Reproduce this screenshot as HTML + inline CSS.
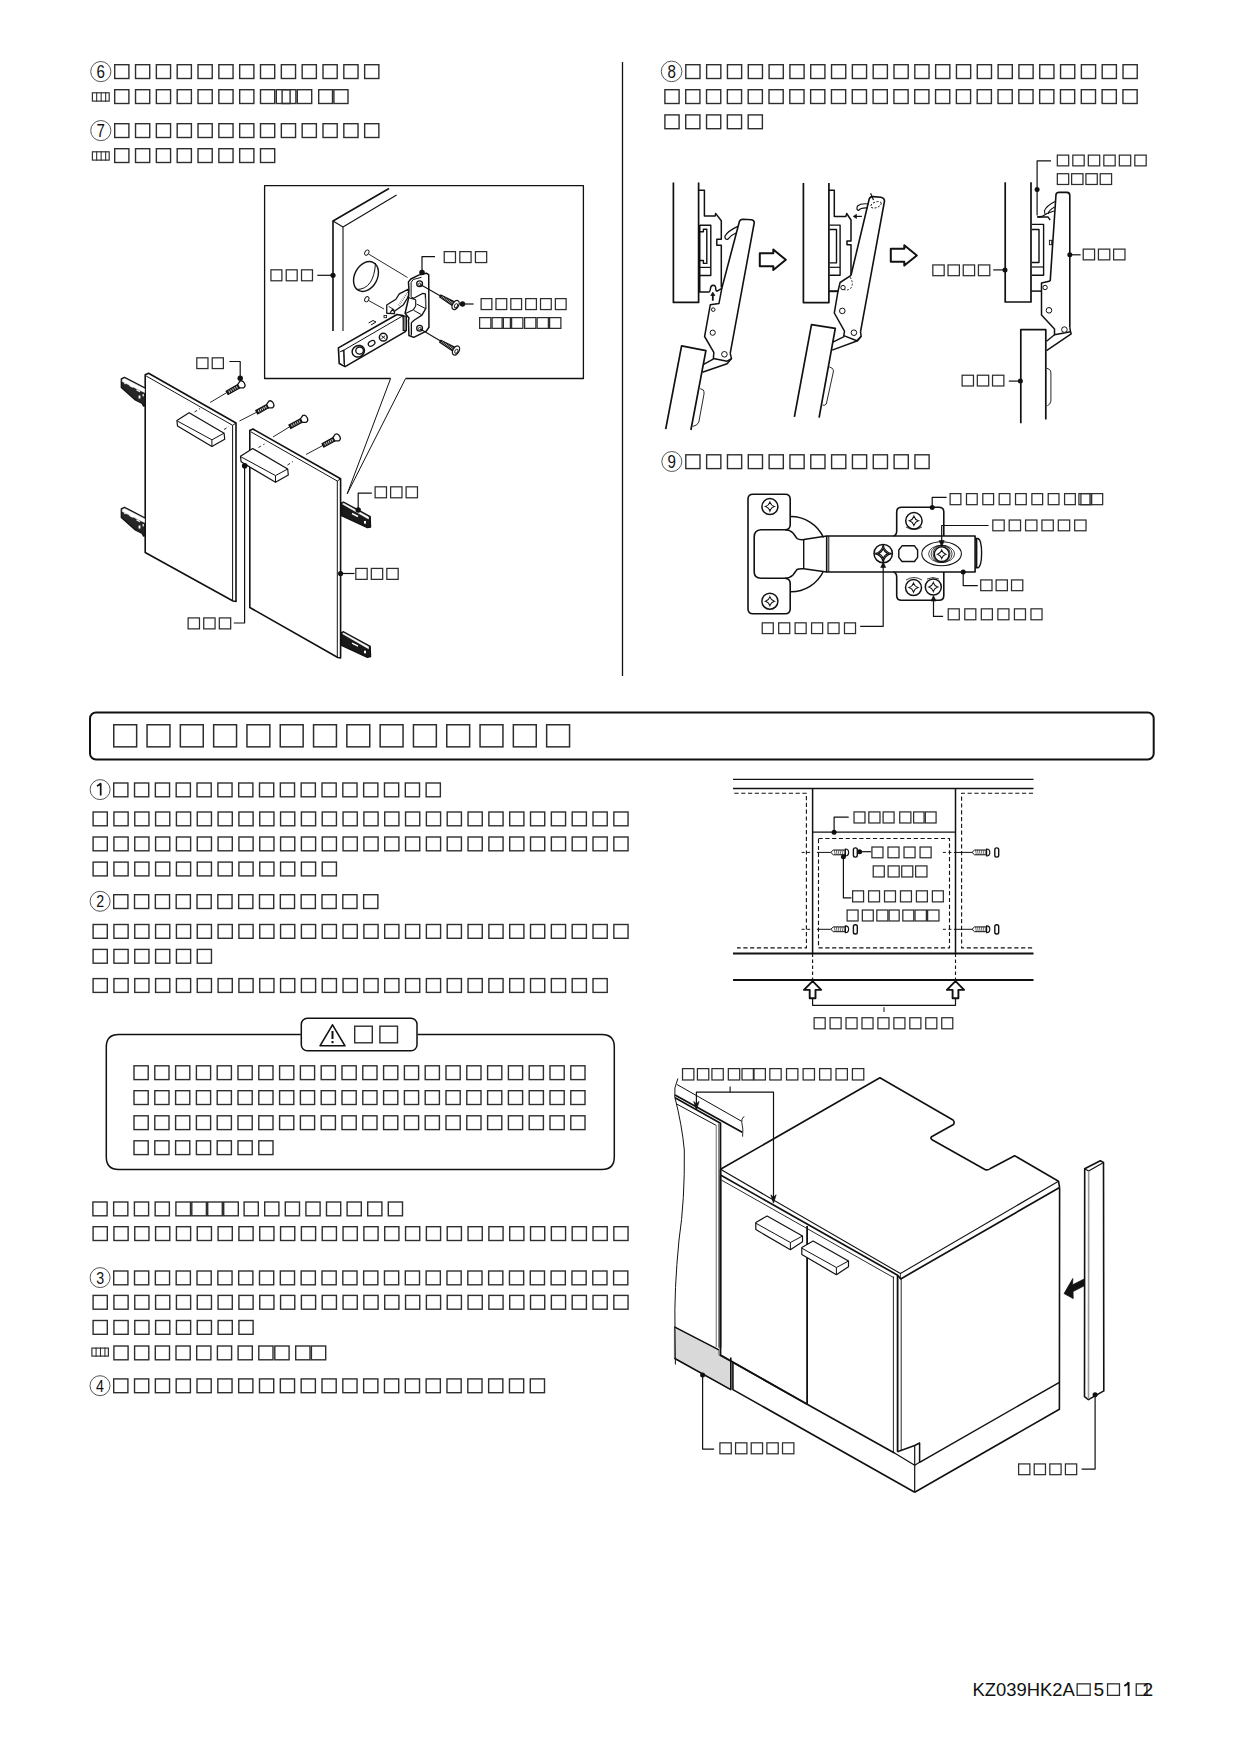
<!DOCTYPE html>
<html><head><meta charset="utf-8"><style>
html,body{margin:0;padding:0;background:#fff;}
svg{display:block;font-family:"Liberation Sans",sans-serif;}
</style></head><body>
<svg width="1244" height="1756" viewBox="0 0 1244 1756">
<rect width="1244" height="1756" fill="#fff"/>
<circle cx="100.8" cy="71.6" r="10.1" fill="none" stroke="#444" stroke-width="0.9"/>
<text transform="translate(100.8 78.04) scale(0.84 1)" x="0" y="0" font-size="18" text-anchor="middle" fill="#111">6</text>
<rect x="114.70" y="64.70" width="14.20" height="13.80" fill="none" stroke="#2e2e2e" stroke-width="1.4"/>
<rect x="135.53" y="64.70" width="14.20" height="13.80" fill="none" stroke="#2e2e2e" stroke-width="1.4"/>
<rect x="156.36" y="64.70" width="14.20" height="13.80" fill="none" stroke="#2e2e2e" stroke-width="1.4"/>
<rect x="177.19" y="64.70" width="14.20" height="13.80" fill="none" stroke="#2e2e2e" stroke-width="1.4"/>
<rect x="198.02" y="64.70" width="14.20" height="13.80" fill="none" stroke="#2e2e2e" stroke-width="1.4"/>
<rect x="218.85" y="64.70" width="14.20" height="13.80" fill="none" stroke="#2e2e2e" stroke-width="1.4"/>
<rect x="239.68" y="64.70" width="14.20" height="13.80" fill="none" stroke="#2e2e2e" stroke-width="1.4"/>
<rect x="260.51" y="64.70" width="14.20" height="13.80" fill="none" stroke="#2e2e2e" stroke-width="1.4"/>
<rect x="281.34" y="64.70" width="14.20" height="13.80" fill="none" stroke="#2e2e2e" stroke-width="1.4"/>
<rect x="302.17" y="64.70" width="14.20" height="13.80" fill="none" stroke="#2e2e2e" stroke-width="1.4"/>
<rect x="323.00" y="64.70" width="14.20" height="13.80" fill="none" stroke="#2e2e2e" stroke-width="1.4"/>
<rect x="343.83" y="64.70" width="14.20" height="13.80" fill="none" stroke="#2e2e2e" stroke-width="1.4"/>
<rect x="364.66" y="64.70" width="14.20" height="13.80" fill="none" stroke="#2e2e2e" stroke-width="1.4"/>
<rect x="92.39999999999999" y="92.8" width="16.8" height="8.3" fill="none" stroke="#333" stroke-width="1.2"/>
<line x1="96.66" y1="92.2" x2="96.66" y2="101.7" stroke="#333" stroke-width="1.1"/>
<line x1="101.16" y1="92.2" x2="101.16" y2="101.7" stroke="#333" stroke-width="1.1"/>
<line x1="105.66" y1="92.2" x2="105.66" y2="101.7" stroke="#333" stroke-width="1.1"/>
<rect x="114.70" y="89.70" width="14.20" height="13.80" fill="none" stroke="#2e2e2e" stroke-width="1.4"/>
<rect x="135.53" y="89.70" width="14.20" height="13.80" fill="none" stroke="#2e2e2e" stroke-width="1.4"/>
<rect x="156.36" y="89.70" width="14.20" height="13.80" fill="none" stroke="#2e2e2e" stroke-width="1.4"/>
<rect x="177.19" y="89.70" width="14.20" height="13.80" fill="none" stroke="#2e2e2e" stroke-width="1.4"/>
<rect x="198.02" y="89.70" width="14.20" height="13.80" fill="none" stroke="#2e2e2e" stroke-width="1.4"/>
<rect x="218.85" y="89.70" width="14.20" height="13.80" fill="none" stroke="#2e2e2e" stroke-width="1.4"/>
<rect x="239.68" y="89.70" width="14.20" height="13.80" fill="none" stroke="#2e2e2e" stroke-width="1.4"/>
<rect x="260.51" y="89.70" width="14.20" height="13.80" fill="none" stroke="#2e2e2e" stroke-width="1.4"/>
<rect x="276.30" y="89.70" width="13.80" height="13.80" fill="none" stroke="#2e2e2e" stroke-width="1.4"/>
<rect x="282.10" y="89.70" width="13.80" height="13.80" fill="none" stroke="#2e2e2e" stroke-width="1.4"/>
<rect x="297.30" y="89.70" width="14.40" height="13.80" fill="none" stroke="#2e2e2e" stroke-width="1.4"/>
<rect x="318.70" y="89.70" width="13.80" height="13.80" fill="none" stroke="#2e2e2e" stroke-width="1.4"/>
<rect x="333.90" y="89.70" width="14.10" height="13.80" fill="none" stroke="#2e2e2e" stroke-width="1.4"/>
<circle cx="100.8" cy="130.6" r="10.1" fill="none" stroke="#444" stroke-width="0.9"/>
<text transform="translate(100.8 137.04) scale(0.84 1)" x="0" y="0" font-size="18" text-anchor="middle" fill="#111">7</text>
<rect x="114.70" y="123.70" width="14.20" height="13.80" fill="none" stroke="#2e2e2e" stroke-width="1.4"/>
<rect x="135.53" y="123.70" width="14.20" height="13.80" fill="none" stroke="#2e2e2e" stroke-width="1.4"/>
<rect x="156.36" y="123.70" width="14.20" height="13.80" fill="none" stroke="#2e2e2e" stroke-width="1.4"/>
<rect x="177.19" y="123.70" width="14.20" height="13.80" fill="none" stroke="#2e2e2e" stroke-width="1.4"/>
<rect x="198.02" y="123.70" width="14.20" height="13.80" fill="none" stroke="#2e2e2e" stroke-width="1.4"/>
<rect x="218.85" y="123.70" width="14.20" height="13.80" fill="none" stroke="#2e2e2e" stroke-width="1.4"/>
<rect x="239.68" y="123.70" width="14.20" height="13.80" fill="none" stroke="#2e2e2e" stroke-width="1.4"/>
<rect x="260.51" y="123.70" width="14.20" height="13.80" fill="none" stroke="#2e2e2e" stroke-width="1.4"/>
<rect x="281.34" y="123.70" width="14.20" height="13.80" fill="none" stroke="#2e2e2e" stroke-width="1.4"/>
<rect x="302.17" y="123.70" width="14.20" height="13.80" fill="none" stroke="#2e2e2e" stroke-width="1.4"/>
<rect x="323.00" y="123.70" width="14.20" height="13.80" fill="none" stroke="#2e2e2e" stroke-width="1.4"/>
<rect x="343.83" y="123.70" width="14.20" height="13.80" fill="none" stroke="#2e2e2e" stroke-width="1.4"/>
<rect x="364.66" y="123.70" width="14.20" height="13.80" fill="none" stroke="#2e2e2e" stroke-width="1.4"/>
<rect x="92.39999999999999" y="151.79999999999998" width="16.8" height="8.3" fill="none" stroke="#333" stroke-width="1.2"/>
<line x1="96.66" y1="151.2" x2="96.66" y2="160.7" stroke="#333" stroke-width="1.1"/>
<line x1="101.16" y1="151.2" x2="101.16" y2="160.7" stroke="#333" stroke-width="1.1"/>
<line x1="105.66" y1="151.2" x2="105.66" y2="160.7" stroke="#333" stroke-width="1.1"/>
<rect x="114.70" y="148.70" width="14.20" height="13.80" fill="none" stroke="#2e2e2e" stroke-width="1.4"/>
<rect x="135.53" y="148.70" width="14.20" height="13.80" fill="none" stroke="#2e2e2e" stroke-width="1.4"/>
<rect x="156.36" y="148.70" width="14.20" height="13.80" fill="none" stroke="#2e2e2e" stroke-width="1.4"/>
<rect x="177.19" y="148.70" width="14.20" height="13.80" fill="none" stroke="#2e2e2e" stroke-width="1.4"/>
<rect x="198.02" y="148.70" width="14.20" height="13.80" fill="none" stroke="#2e2e2e" stroke-width="1.4"/>
<rect x="218.85" y="148.70" width="14.20" height="13.80" fill="none" stroke="#2e2e2e" stroke-width="1.4"/>
<rect x="239.68" y="148.70" width="14.20" height="13.80" fill="none" stroke="#2e2e2e" stroke-width="1.4"/>
<rect x="260.51" y="148.70" width="14.20" height="13.80" fill="none" stroke="#2e2e2e" stroke-width="1.4"/>
<polyline points="622.5,62 622.5,676" fill="none" stroke="#111" stroke-width="1.3" stroke-linejoin="round" />
<circle cx="671.6" cy="71.4" r="10.3" fill="none" stroke="#444" stroke-width="0.9"/>
<text transform="translate(671.6 77.84) scale(0.84 1)" x="0" y="0" font-size="18" text-anchor="middle" fill="#111">8</text>
<rect x="685.80" y="64.70" width="14.20" height="13.80" fill="none" stroke="#2e2e2e" stroke-width="1.4"/>
<rect x="706.62" y="64.70" width="14.20" height="13.80" fill="none" stroke="#2e2e2e" stroke-width="1.4"/>
<rect x="727.44" y="64.70" width="14.20" height="13.80" fill="none" stroke="#2e2e2e" stroke-width="1.4"/>
<rect x="748.26" y="64.70" width="14.20" height="13.80" fill="none" stroke="#2e2e2e" stroke-width="1.4"/>
<rect x="769.08" y="64.70" width="14.20" height="13.80" fill="none" stroke="#2e2e2e" stroke-width="1.4"/>
<rect x="789.90" y="64.70" width="14.20" height="13.80" fill="none" stroke="#2e2e2e" stroke-width="1.4"/>
<rect x="810.72" y="64.70" width="14.20" height="13.80" fill="none" stroke="#2e2e2e" stroke-width="1.4"/>
<rect x="831.54" y="64.70" width="14.20" height="13.80" fill="none" stroke="#2e2e2e" stroke-width="1.4"/>
<rect x="852.36" y="64.70" width="14.20" height="13.80" fill="none" stroke="#2e2e2e" stroke-width="1.4"/>
<rect x="873.18" y="64.70" width="14.20" height="13.80" fill="none" stroke="#2e2e2e" stroke-width="1.4"/>
<rect x="894.00" y="64.70" width="14.20" height="13.80" fill="none" stroke="#2e2e2e" stroke-width="1.4"/>
<rect x="914.82" y="64.70" width="14.20" height="13.80" fill="none" stroke="#2e2e2e" stroke-width="1.4"/>
<rect x="935.64" y="64.70" width="14.20" height="13.80" fill="none" stroke="#2e2e2e" stroke-width="1.4"/>
<rect x="956.46" y="64.70" width="14.20" height="13.80" fill="none" stroke="#2e2e2e" stroke-width="1.4"/>
<rect x="977.28" y="64.70" width="14.20" height="13.80" fill="none" stroke="#2e2e2e" stroke-width="1.4"/>
<rect x="998.10" y="64.70" width="14.20" height="13.80" fill="none" stroke="#2e2e2e" stroke-width="1.4"/>
<rect x="1018.92" y="64.70" width="14.20" height="13.80" fill="none" stroke="#2e2e2e" stroke-width="1.4"/>
<rect x="1039.74" y="64.70" width="14.20" height="13.80" fill="none" stroke="#2e2e2e" stroke-width="1.4"/>
<rect x="1060.56" y="64.70" width="14.20" height="13.80" fill="none" stroke="#2e2e2e" stroke-width="1.4"/>
<rect x="1081.38" y="64.70" width="14.20" height="13.80" fill="none" stroke="#2e2e2e" stroke-width="1.4"/>
<rect x="1102.20" y="64.70" width="14.20" height="13.80" fill="none" stroke="#2e2e2e" stroke-width="1.4"/>
<rect x="1123.02" y="64.70" width="14.20" height="13.80" fill="none" stroke="#2e2e2e" stroke-width="1.4"/>
<rect x="664.90" y="89.70" width="14.20" height="13.80" fill="none" stroke="#2e2e2e" stroke-width="1.4"/>
<rect x="685.72" y="89.70" width="14.20" height="13.80" fill="none" stroke="#2e2e2e" stroke-width="1.4"/>
<rect x="706.54" y="89.70" width="14.20" height="13.80" fill="none" stroke="#2e2e2e" stroke-width="1.4"/>
<rect x="727.36" y="89.70" width="14.20" height="13.80" fill="none" stroke="#2e2e2e" stroke-width="1.4"/>
<rect x="748.18" y="89.70" width="14.20" height="13.80" fill="none" stroke="#2e2e2e" stroke-width="1.4"/>
<rect x="769.00" y="89.70" width="14.20" height="13.80" fill="none" stroke="#2e2e2e" stroke-width="1.4"/>
<rect x="789.82" y="89.70" width="14.20" height="13.80" fill="none" stroke="#2e2e2e" stroke-width="1.4"/>
<rect x="810.64" y="89.70" width="14.20" height="13.80" fill="none" stroke="#2e2e2e" stroke-width="1.4"/>
<rect x="831.46" y="89.70" width="14.20" height="13.80" fill="none" stroke="#2e2e2e" stroke-width="1.4"/>
<rect x="852.28" y="89.70" width="14.20" height="13.80" fill="none" stroke="#2e2e2e" stroke-width="1.4"/>
<rect x="873.10" y="89.70" width="14.20" height="13.80" fill="none" stroke="#2e2e2e" stroke-width="1.4"/>
<rect x="893.92" y="89.70" width="14.20" height="13.80" fill="none" stroke="#2e2e2e" stroke-width="1.4"/>
<rect x="914.74" y="89.70" width="14.20" height="13.80" fill="none" stroke="#2e2e2e" stroke-width="1.4"/>
<rect x="935.56" y="89.70" width="14.20" height="13.80" fill="none" stroke="#2e2e2e" stroke-width="1.4"/>
<rect x="956.38" y="89.70" width="14.20" height="13.80" fill="none" stroke="#2e2e2e" stroke-width="1.4"/>
<rect x="977.20" y="89.70" width="14.20" height="13.80" fill="none" stroke="#2e2e2e" stroke-width="1.4"/>
<rect x="998.02" y="89.70" width="14.20" height="13.80" fill="none" stroke="#2e2e2e" stroke-width="1.4"/>
<rect x="1018.84" y="89.70" width="14.20" height="13.80" fill="none" stroke="#2e2e2e" stroke-width="1.4"/>
<rect x="1039.66" y="89.70" width="14.20" height="13.80" fill="none" stroke="#2e2e2e" stroke-width="1.4"/>
<rect x="1060.48" y="89.70" width="14.20" height="13.80" fill="none" stroke="#2e2e2e" stroke-width="1.4"/>
<rect x="1081.30" y="89.70" width="14.20" height="13.80" fill="none" stroke="#2e2e2e" stroke-width="1.4"/>
<rect x="1102.12" y="89.70" width="14.20" height="13.80" fill="none" stroke="#2e2e2e" stroke-width="1.4"/>
<rect x="1122.94" y="89.70" width="14.20" height="13.80" fill="none" stroke="#2e2e2e" stroke-width="1.4"/>
<rect x="664.90" y="114.90" width="14.20" height="13.80" fill="none" stroke="#2e2e2e" stroke-width="1.4"/>
<rect x="685.72" y="114.90" width="14.20" height="13.80" fill="none" stroke="#2e2e2e" stroke-width="1.4"/>
<rect x="706.54" y="114.90" width="14.20" height="13.80" fill="none" stroke="#2e2e2e" stroke-width="1.4"/>
<rect x="727.36" y="114.90" width="14.20" height="13.80" fill="none" stroke="#2e2e2e" stroke-width="1.4"/>
<rect x="748.18" y="114.90" width="14.20" height="13.80" fill="none" stroke="#2e2e2e" stroke-width="1.4"/>
<circle cx="671.8" cy="461.5" r="10.0" fill="none" stroke="#444" stroke-width="0.9"/>
<text transform="translate(671.8 467.94) scale(0.84 1)" x="0" y="0" font-size="18" text-anchor="middle" fill="#111">9</text>
<rect x="685.80" y="454.80" width="14.20" height="13.80" fill="none" stroke="#2e2e2e" stroke-width="1.4"/>
<rect x="706.63" y="454.80" width="14.20" height="13.80" fill="none" stroke="#2e2e2e" stroke-width="1.4"/>
<rect x="727.46" y="454.80" width="14.20" height="13.80" fill="none" stroke="#2e2e2e" stroke-width="1.4"/>
<rect x="748.29" y="454.80" width="14.20" height="13.80" fill="none" stroke="#2e2e2e" stroke-width="1.4"/>
<rect x="769.12" y="454.80" width="14.20" height="13.80" fill="none" stroke="#2e2e2e" stroke-width="1.4"/>
<rect x="789.95" y="454.80" width="14.20" height="13.80" fill="none" stroke="#2e2e2e" stroke-width="1.4"/>
<rect x="810.78" y="454.80" width="14.20" height="13.80" fill="none" stroke="#2e2e2e" stroke-width="1.4"/>
<rect x="831.61" y="454.80" width="14.20" height="13.80" fill="none" stroke="#2e2e2e" stroke-width="1.4"/>
<rect x="852.44" y="454.80" width="14.20" height="13.80" fill="none" stroke="#2e2e2e" stroke-width="1.4"/>
<rect x="873.27" y="454.80" width="14.20" height="13.80" fill="none" stroke="#2e2e2e" stroke-width="1.4"/>
<rect x="894.10" y="454.80" width="14.20" height="13.80" fill="none" stroke="#2e2e2e" stroke-width="1.4"/>
<rect x="914.93" y="454.80" width="14.20" height="13.80" fill="none" stroke="#2e2e2e" stroke-width="1.4"/>
<rect x="90" y="712.5" width="1063.7" height="47" rx="6" ry="6" fill="none" stroke="#111" stroke-width="2"/>
<rect x="113.75" y="724.75" width="22.90" height="22.10" fill="none" stroke="#2e2e2e" stroke-width="1.5"/>
<rect x="147.05" y="724.75" width="22.90" height="22.10" fill="none" stroke="#2e2e2e" stroke-width="1.5"/>
<rect x="180.35" y="724.75" width="22.90" height="22.10" fill="none" stroke="#2e2e2e" stroke-width="1.5"/>
<rect x="213.65" y="724.75" width="22.90" height="22.10" fill="none" stroke="#2e2e2e" stroke-width="1.5"/>
<rect x="246.95" y="724.75" width="22.90" height="22.10" fill="none" stroke="#2e2e2e" stroke-width="1.5"/>
<rect x="280.25" y="724.75" width="22.90" height="22.10" fill="none" stroke="#2e2e2e" stroke-width="1.5"/>
<rect x="313.55" y="724.75" width="22.90" height="22.10" fill="none" stroke="#2e2e2e" stroke-width="1.5"/>
<rect x="346.85" y="724.75" width="22.90" height="22.10" fill="none" stroke="#2e2e2e" stroke-width="1.5"/>
<rect x="380.15" y="724.75" width="22.90" height="22.10" fill="none" stroke="#2e2e2e" stroke-width="1.5"/>
<rect x="413.45" y="724.75" width="22.90" height="22.10" fill="none" stroke="#2e2e2e" stroke-width="1.5"/>
<rect x="446.75" y="724.75" width="22.90" height="22.10" fill="none" stroke="#2e2e2e" stroke-width="1.5"/>
<rect x="480.05" y="724.75" width="22.90" height="22.10" fill="none" stroke="#2e2e2e" stroke-width="1.5"/>
<rect x="513.35" y="724.75" width="22.90" height="22.10" fill="none" stroke="#2e2e2e" stroke-width="1.5"/>
<rect x="546.65" y="724.75" width="22.90" height="22.10" fill="none" stroke="#2e2e2e" stroke-width="1.5"/>
<circle cx="100.1" cy="789.6" r="10.0" fill="none" stroke="#444" stroke-width="0.9"/>
<path d="M 96.89999999999999,786.0 Q 99.89999999999999,785.0 100.69999999999999,783.2 L 100.69999999999999,795.4" fill="none" stroke="#111" stroke-width="1.7"/>
<rect x="113.70" y="783.00" width="14.20" height="13.80" fill="none" stroke="#2e2e2e" stroke-width="1.4"/>
<rect x="134.53" y="783.00" width="14.20" height="13.80" fill="none" stroke="#2e2e2e" stroke-width="1.4"/>
<rect x="155.36" y="783.00" width="14.20" height="13.80" fill="none" stroke="#2e2e2e" stroke-width="1.4"/>
<rect x="176.19" y="783.00" width="14.20" height="13.80" fill="none" stroke="#2e2e2e" stroke-width="1.4"/>
<rect x="197.02" y="783.00" width="14.20" height="13.80" fill="none" stroke="#2e2e2e" stroke-width="1.4"/>
<rect x="217.85" y="783.00" width="14.20" height="13.80" fill="none" stroke="#2e2e2e" stroke-width="1.4"/>
<rect x="238.68" y="783.00" width="14.20" height="13.80" fill="none" stroke="#2e2e2e" stroke-width="1.4"/>
<rect x="259.51" y="783.00" width="14.20" height="13.80" fill="none" stroke="#2e2e2e" stroke-width="1.4"/>
<rect x="280.34" y="783.00" width="14.20" height="13.80" fill="none" stroke="#2e2e2e" stroke-width="1.4"/>
<rect x="301.17" y="783.00" width="14.20" height="13.80" fill="none" stroke="#2e2e2e" stroke-width="1.4"/>
<rect x="322.00" y="783.00" width="14.20" height="13.80" fill="none" stroke="#2e2e2e" stroke-width="1.4"/>
<rect x="342.83" y="783.00" width="14.20" height="13.80" fill="none" stroke="#2e2e2e" stroke-width="1.4"/>
<rect x="363.66" y="783.00" width="14.20" height="13.80" fill="none" stroke="#2e2e2e" stroke-width="1.4"/>
<rect x="384.49" y="783.00" width="14.20" height="13.80" fill="none" stroke="#2e2e2e" stroke-width="1.4"/>
<rect x="405.32" y="783.00" width="14.20" height="13.80" fill="none" stroke="#2e2e2e" stroke-width="1.4"/>
<rect x="426.15" y="783.00" width="14.20" height="13.80" fill="none" stroke="#2e2e2e" stroke-width="1.4"/>
<rect x="93.10" y="812.00" width="14.20" height="13.80" fill="none" stroke="#2e2e2e" stroke-width="1.4"/>
<rect x="113.93" y="812.00" width="14.20" height="13.80" fill="none" stroke="#2e2e2e" stroke-width="1.4"/>
<rect x="134.76" y="812.00" width="14.20" height="13.80" fill="none" stroke="#2e2e2e" stroke-width="1.4"/>
<rect x="155.59" y="812.00" width="14.20" height="13.80" fill="none" stroke="#2e2e2e" stroke-width="1.4"/>
<rect x="176.42" y="812.00" width="14.20" height="13.80" fill="none" stroke="#2e2e2e" stroke-width="1.4"/>
<rect x="197.25" y="812.00" width="14.20" height="13.80" fill="none" stroke="#2e2e2e" stroke-width="1.4"/>
<rect x="218.08" y="812.00" width="14.20" height="13.80" fill="none" stroke="#2e2e2e" stroke-width="1.4"/>
<rect x="238.91" y="812.00" width="14.20" height="13.80" fill="none" stroke="#2e2e2e" stroke-width="1.4"/>
<rect x="259.74" y="812.00" width="14.20" height="13.80" fill="none" stroke="#2e2e2e" stroke-width="1.4"/>
<rect x="280.57" y="812.00" width="14.20" height="13.80" fill="none" stroke="#2e2e2e" stroke-width="1.4"/>
<rect x="301.40" y="812.00" width="14.20" height="13.80" fill="none" stroke="#2e2e2e" stroke-width="1.4"/>
<rect x="322.23" y="812.00" width="14.20" height="13.80" fill="none" stroke="#2e2e2e" stroke-width="1.4"/>
<rect x="343.06" y="812.00" width="14.20" height="13.80" fill="none" stroke="#2e2e2e" stroke-width="1.4"/>
<rect x="363.89" y="812.00" width="14.20" height="13.80" fill="none" stroke="#2e2e2e" stroke-width="1.4"/>
<rect x="384.72" y="812.00" width="14.20" height="13.80" fill="none" stroke="#2e2e2e" stroke-width="1.4"/>
<rect x="405.55" y="812.00" width="14.20" height="13.80" fill="none" stroke="#2e2e2e" stroke-width="1.4"/>
<rect x="426.38" y="812.00" width="14.20" height="13.80" fill="none" stroke="#2e2e2e" stroke-width="1.4"/>
<rect x="447.21" y="812.00" width="14.20" height="13.80" fill="none" stroke="#2e2e2e" stroke-width="1.4"/>
<rect x="468.04" y="812.00" width="14.20" height="13.80" fill="none" stroke="#2e2e2e" stroke-width="1.4"/>
<rect x="488.87" y="812.00" width="14.20" height="13.80" fill="none" stroke="#2e2e2e" stroke-width="1.4"/>
<rect x="509.70" y="812.00" width="14.20" height="13.80" fill="none" stroke="#2e2e2e" stroke-width="1.4"/>
<rect x="530.53" y="812.00" width="14.20" height="13.80" fill="none" stroke="#2e2e2e" stroke-width="1.4"/>
<rect x="551.36" y="812.00" width="14.20" height="13.80" fill="none" stroke="#2e2e2e" stroke-width="1.4"/>
<rect x="572.19" y="812.00" width="14.20" height="13.80" fill="none" stroke="#2e2e2e" stroke-width="1.4"/>
<rect x="593.02" y="812.00" width="14.20" height="13.80" fill="none" stroke="#2e2e2e" stroke-width="1.4"/>
<rect x="613.85" y="812.00" width="14.20" height="13.80" fill="none" stroke="#2e2e2e" stroke-width="1.4"/>
<rect x="93.10" y="837.00" width="14.20" height="13.80" fill="none" stroke="#2e2e2e" stroke-width="1.4"/>
<rect x="113.93" y="837.00" width="14.20" height="13.80" fill="none" stroke="#2e2e2e" stroke-width="1.4"/>
<rect x="134.76" y="837.00" width="14.20" height="13.80" fill="none" stroke="#2e2e2e" stroke-width="1.4"/>
<rect x="155.59" y="837.00" width="14.20" height="13.80" fill="none" stroke="#2e2e2e" stroke-width="1.4"/>
<rect x="176.42" y="837.00" width="14.20" height="13.80" fill="none" stroke="#2e2e2e" stroke-width="1.4"/>
<rect x="197.25" y="837.00" width="14.20" height="13.80" fill="none" stroke="#2e2e2e" stroke-width="1.4"/>
<rect x="218.08" y="837.00" width="14.20" height="13.80" fill="none" stroke="#2e2e2e" stroke-width="1.4"/>
<rect x="238.91" y="837.00" width="14.20" height="13.80" fill="none" stroke="#2e2e2e" stroke-width="1.4"/>
<rect x="259.74" y="837.00" width="14.20" height="13.80" fill="none" stroke="#2e2e2e" stroke-width="1.4"/>
<rect x="280.57" y="837.00" width="14.20" height="13.80" fill="none" stroke="#2e2e2e" stroke-width="1.4"/>
<rect x="301.40" y="837.00" width="14.20" height="13.80" fill="none" stroke="#2e2e2e" stroke-width="1.4"/>
<rect x="322.23" y="837.00" width="14.20" height="13.80" fill="none" stroke="#2e2e2e" stroke-width="1.4"/>
<rect x="343.06" y="837.00" width="14.20" height="13.80" fill="none" stroke="#2e2e2e" stroke-width="1.4"/>
<rect x="363.89" y="837.00" width="14.20" height="13.80" fill="none" stroke="#2e2e2e" stroke-width="1.4"/>
<rect x="384.72" y="837.00" width="14.20" height="13.80" fill="none" stroke="#2e2e2e" stroke-width="1.4"/>
<rect x="405.55" y="837.00" width="14.20" height="13.80" fill="none" stroke="#2e2e2e" stroke-width="1.4"/>
<rect x="426.38" y="837.00" width="14.20" height="13.80" fill="none" stroke="#2e2e2e" stroke-width="1.4"/>
<rect x="447.21" y="837.00" width="14.20" height="13.80" fill="none" stroke="#2e2e2e" stroke-width="1.4"/>
<rect x="468.04" y="837.00" width="14.20" height="13.80" fill="none" stroke="#2e2e2e" stroke-width="1.4"/>
<rect x="488.87" y="837.00" width="14.20" height="13.80" fill="none" stroke="#2e2e2e" stroke-width="1.4"/>
<rect x="509.70" y="837.00" width="14.20" height="13.80" fill="none" stroke="#2e2e2e" stroke-width="1.4"/>
<rect x="530.53" y="837.00" width="14.20" height="13.80" fill="none" stroke="#2e2e2e" stroke-width="1.4"/>
<rect x="551.36" y="837.00" width="14.20" height="13.80" fill="none" stroke="#2e2e2e" stroke-width="1.4"/>
<rect x="572.19" y="837.00" width="14.20" height="13.80" fill="none" stroke="#2e2e2e" stroke-width="1.4"/>
<rect x="593.02" y="837.00" width="14.20" height="13.80" fill="none" stroke="#2e2e2e" stroke-width="1.4"/>
<rect x="613.85" y="837.00" width="14.20" height="13.80" fill="none" stroke="#2e2e2e" stroke-width="1.4"/>
<rect x="93.10" y="862.10" width="14.20" height="13.80" fill="none" stroke="#2e2e2e" stroke-width="1.4"/>
<rect x="113.93" y="862.10" width="14.20" height="13.80" fill="none" stroke="#2e2e2e" stroke-width="1.4"/>
<rect x="134.76" y="862.10" width="14.20" height="13.80" fill="none" stroke="#2e2e2e" stroke-width="1.4"/>
<rect x="155.59" y="862.10" width="14.20" height="13.80" fill="none" stroke="#2e2e2e" stroke-width="1.4"/>
<rect x="176.42" y="862.10" width="14.20" height="13.80" fill="none" stroke="#2e2e2e" stroke-width="1.4"/>
<rect x="197.25" y="862.10" width="14.20" height="13.80" fill="none" stroke="#2e2e2e" stroke-width="1.4"/>
<rect x="218.08" y="862.10" width="14.20" height="13.80" fill="none" stroke="#2e2e2e" stroke-width="1.4"/>
<rect x="238.91" y="862.10" width="14.20" height="13.80" fill="none" stroke="#2e2e2e" stroke-width="1.4"/>
<rect x="259.74" y="862.10" width="14.20" height="13.80" fill="none" stroke="#2e2e2e" stroke-width="1.4"/>
<rect x="280.57" y="862.10" width="14.20" height="13.80" fill="none" stroke="#2e2e2e" stroke-width="1.4"/>
<rect x="301.40" y="862.10" width="14.20" height="13.80" fill="none" stroke="#2e2e2e" stroke-width="1.4"/>
<rect x="322.23" y="862.10" width="14.20" height="13.80" fill="none" stroke="#2e2e2e" stroke-width="1.4"/>
<circle cx="100.1" cy="901.3" r="10.0" fill="none" stroke="#444" stroke-width="0.9"/>
<text transform="translate(100.1 907.39) scale(0.84 1)" x="0" y="0" font-size="17" text-anchor="middle" fill="#111">2</text>
<rect x="113.70" y="894.70" width="14.20" height="13.80" fill="none" stroke="#2e2e2e" stroke-width="1.4"/>
<rect x="134.53" y="894.70" width="14.20" height="13.80" fill="none" stroke="#2e2e2e" stroke-width="1.4"/>
<rect x="155.36" y="894.70" width="14.20" height="13.80" fill="none" stroke="#2e2e2e" stroke-width="1.4"/>
<rect x="176.19" y="894.70" width="14.20" height="13.80" fill="none" stroke="#2e2e2e" stroke-width="1.4"/>
<rect x="197.02" y="894.70" width="14.20" height="13.80" fill="none" stroke="#2e2e2e" stroke-width="1.4"/>
<rect x="217.85" y="894.70" width="14.20" height="13.80" fill="none" stroke="#2e2e2e" stroke-width="1.4"/>
<rect x="238.68" y="894.70" width="14.20" height="13.80" fill="none" stroke="#2e2e2e" stroke-width="1.4"/>
<rect x="259.51" y="894.70" width="14.20" height="13.80" fill="none" stroke="#2e2e2e" stroke-width="1.4"/>
<rect x="280.34" y="894.70" width="14.20" height="13.80" fill="none" stroke="#2e2e2e" stroke-width="1.4"/>
<rect x="301.17" y="894.70" width="14.20" height="13.80" fill="none" stroke="#2e2e2e" stroke-width="1.4"/>
<rect x="322.00" y="894.70" width="14.20" height="13.80" fill="none" stroke="#2e2e2e" stroke-width="1.4"/>
<rect x="342.83" y="894.70" width="14.20" height="13.80" fill="none" stroke="#2e2e2e" stroke-width="1.4"/>
<rect x="363.66" y="894.70" width="14.20" height="13.80" fill="none" stroke="#2e2e2e" stroke-width="1.4"/>
<rect x="93.10" y="924.50" width="14.20" height="13.80" fill="none" stroke="#2e2e2e" stroke-width="1.4"/>
<rect x="113.93" y="924.50" width="14.20" height="13.80" fill="none" stroke="#2e2e2e" stroke-width="1.4"/>
<rect x="134.76" y="924.50" width="14.20" height="13.80" fill="none" stroke="#2e2e2e" stroke-width="1.4"/>
<rect x="155.59" y="924.50" width="14.20" height="13.80" fill="none" stroke="#2e2e2e" stroke-width="1.4"/>
<rect x="176.42" y="924.50" width="14.20" height="13.80" fill="none" stroke="#2e2e2e" stroke-width="1.4"/>
<rect x="197.25" y="924.50" width="14.20" height="13.80" fill="none" stroke="#2e2e2e" stroke-width="1.4"/>
<rect x="218.08" y="924.50" width="14.20" height="13.80" fill="none" stroke="#2e2e2e" stroke-width="1.4"/>
<rect x="238.91" y="924.50" width="14.20" height="13.80" fill="none" stroke="#2e2e2e" stroke-width="1.4"/>
<rect x="259.74" y="924.50" width="14.20" height="13.80" fill="none" stroke="#2e2e2e" stroke-width="1.4"/>
<rect x="280.57" y="924.50" width="14.20" height="13.80" fill="none" stroke="#2e2e2e" stroke-width="1.4"/>
<rect x="301.40" y="924.50" width="14.20" height="13.80" fill="none" stroke="#2e2e2e" stroke-width="1.4"/>
<rect x="322.23" y="924.50" width="14.20" height="13.80" fill="none" stroke="#2e2e2e" stroke-width="1.4"/>
<rect x="343.06" y="924.50" width="14.20" height="13.80" fill="none" stroke="#2e2e2e" stroke-width="1.4"/>
<rect x="363.89" y="924.50" width="14.20" height="13.80" fill="none" stroke="#2e2e2e" stroke-width="1.4"/>
<rect x="384.72" y="924.50" width="14.20" height="13.80" fill="none" stroke="#2e2e2e" stroke-width="1.4"/>
<rect x="405.55" y="924.50" width="14.20" height="13.80" fill="none" stroke="#2e2e2e" stroke-width="1.4"/>
<rect x="426.38" y="924.50" width="14.20" height="13.80" fill="none" stroke="#2e2e2e" stroke-width="1.4"/>
<rect x="447.21" y="924.50" width="14.20" height="13.80" fill="none" stroke="#2e2e2e" stroke-width="1.4"/>
<rect x="468.04" y="924.50" width="14.20" height="13.80" fill="none" stroke="#2e2e2e" stroke-width="1.4"/>
<rect x="488.87" y="924.50" width="14.20" height="13.80" fill="none" stroke="#2e2e2e" stroke-width="1.4"/>
<rect x="509.70" y="924.50" width="14.20" height="13.80" fill="none" stroke="#2e2e2e" stroke-width="1.4"/>
<rect x="530.53" y="924.50" width="14.20" height="13.80" fill="none" stroke="#2e2e2e" stroke-width="1.4"/>
<rect x="551.36" y="924.50" width="14.20" height="13.80" fill="none" stroke="#2e2e2e" stroke-width="1.4"/>
<rect x="572.19" y="924.50" width="14.20" height="13.80" fill="none" stroke="#2e2e2e" stroke-width="1.4"/>
<rect x="593.02" y="924.50" width="14.20" height="13.80" fill="none" stroke="#2e2e2e" stroke-width="1.4"/>
<rect x="613.85" y="924.50" width="14.20" height="13.80" fill="none" stroke="#2e2e2e" stroke-width="1.4"/>
<rect x="93.10" y="949.40" width="14.20" height="13.80" fill="none" stroke="#2e2e2e" stroke-width="1.4"/>
<rect x="113.93" y="949.40" width="14.20" height="13.80" fill="none" stroke="#2e2e2e" stroke-width="1.4"/>
<rect x="134.76" y="949.40" width="14.20" height="13.80" fill="none" stroke="#2e2e2e" stroke-width="1.4"/>
<rect x="155.59" y="949.40" width="14.20" height="13.80" fill="none" stroke="#2e2e2e" stroke-width="1.4"/>
<rect x="176.42" y="949.40" width="14.20" height="13.80" fill="none" stroke="#2e2e2e" stroke-width="1.4"/>
<rect x="197.25" y="949.40" width="14.20" height="13.80" fill="none" stroke="#2e2e2e" stroke-width="1.4"/>
<rect x="93.10" y="978.60" width="14.20" height="13.80" fill="none" stroke="#2e2e2e" stroke-width="1.4"/>
<rect x="113.93" y="978.60" width="14.20" height="13.80" fill="none" stroke="#2e2e2e" stroke-width="1.4"/>
<rect x="134.76" y="978.60" width="14.20" height="13.80" fill="none" stroke="#2e2e2e" stroke-width="1.4"/>
<rect x="155.59" y="978.60" width="14.20" height="13.80" fill="none" stroke="#2e2e2e" stroke-width="1.4"/>
<rect x="176.42" y="978.60" width="14.20" height="13.80" fill="none" stroke="#2e2e2e" stroke-width="1.4"/>
<rect x="197.25" y="978.60" width="14.20" height="13.80" fill="none" stroke="#2e2e2e" stroke-width="1.4"/>
<rect x="218.08" y="978.60" width="14.20" height="13.80" fill="none" stroke="#2e2e2e" stroke-width="1.4"/>
<rect x="238.91" y="978.60" width="14.20" height="13.80" fill="none" stroke="#2e2e2e" stroke-width="1.4"/>
<rect x="259.74" y="978.60" width="14.20" height="13.80" fill="none" stroke="#2e2e2e" stroke-width="1.4"/>
<rect x="280.57" y="978.60" width="14.20" height="13.80" fill="none" stroke="#2e2e2e" stroke-width="1.4"/>
<rect x="301.40" y="978.60" width="14.20" height="13.80" fill="none" stroke="#2e2e2e" stroke-width="1.4"/>
<rect x="322.23" y="978.60" width="14.20" height="13.80" fill="none" stroke="#2e2e2e" stroke-width="1.4"/>
<rect x="343.06" y="978.60" width="14.20" height="13.80" fill="none" stroke="#2e2e2e" stroke-width="1.4"/>
<rect x="363.89" y="978.60" width="14.20" height="13.80" fill="none" stroke="#2e2e2e" stroke-width="1.4"/>
<rect x="384.72" y="978.60" width="14.20" height="13.80" fill="none" stroke="#2e2e2e" stroke-width="1.4"/>
<rect x="405.55" y="978.60" width="14.20" height="13.80" fill="none" stroke="#2e2e2e" stroke-width="1.4"/>
<rect x="426.38" y="978.60" width="14.20" height="13.80" fill="none" stroke="#2e2e2e" stroke-width="1.4"/>
<rect x="447.21" y="978.60" width="14.20" height="13.80" fill="none" stroke="#2e2e2e" stroke-width="1.4"/>
<rect x="468.04" y="978.60" width="14.20" height="13.80" fill="none" stroke="#2e2e2e" stroke-width="1.4"/>
<rect x="488.87" y="978.60" width="14.20" height="13.80" fill="none" stroke="#2e2e2e" stroke-width="1.4"/>
<rect x="509.70" y="978.60" width="14.20" height="13.80" fill="none" stroke="#2e2e2e" stroke-width="1.4"/>
<rect x="530.53" y="978.60" width="14.20" height="13.80" fill="none" stroke="#2e2e2e" stroke-width="1.4"/>
<rect x="551.36" y="978.60" width="14.20" height="13.80" fill="none" stroke="#2e2e2e" stroke-width="1.4"/>
<rect x="572.19" y="978.60" width="14.20" height="13.80" fill="none" stroke="#2e2e2e" stroke-width="1.4"/>
<rect x="593.02" y="978.60" width="14.20" height="13.80" fill="none" stroke="#2e2e2e" stroke-width="1.4"/>
<path d="M 300.8,1034.6 H 118.8 Q 106.3,1034.6 106.3,1047 V 1157 Q 106.3,1169.5 118.8,1169.5 H 601.8 Q 614.3,1169.5 614.3,1157 V 1047 Q 614.3,1034.6 601.8,1034.6 H 417.5" fill="none" stroke="#111" stroke-width="1.5" stroke-linejoin="round" />
<rect x="301.3" y="1018.3" width="115.7" height="32.4" rx="6" ry="6" fill="#fff" stroke="#111" stroke-width="1.5"/>
<path d="M 332.5,1024.8 L 345,1045.8 L 320,1045.8 Z" fill="none" stroke="#111" stroke-width="1.6" stroke-linejoin="round" />
<rect x="331.5" y="1031" width="2" height="8" fill="#111"/><rect x="331.5" y="1041" width="2" height="2.2" fill="#111"/>
<rect x="354.70" y="1026.20" width="17.60" height="16.60" fill="none" stroke="#2e2e2e" stroke-width="1.4"/>
<rect x="379.90" y="1026.20" width="17.60" height="16.60" fill="none" stroke="#2e2e2e" stroke-width="1.4"/>
<rect x="134.00" y="1065.80" width="14.20" height="13.80" fill="none" stroke="#2e2e2e" stroke-width="1.4"/>
<rect x="154.80" y="1065.80" width="14.20" height="13.80" fill="none" stroke="#2e2e2e" stroke-width="1.4"/>
<rect x="175.60" y="1065.80" width="14.20" height="13.80" fill="none" stroke="#2e2e2e" stroke-width="1.4"/>
<rect x="196.40" y="1065.80" width="14.20" height="13.80" fill="none" stroke="#2e2e2e" stroke-width="1.4"/>
<rect x="217.20" y="1065.80" width="14.20" height="13.80" fill="none" stroke="#2e2e2e" stroke-width="1.4"/>
<rect x="238.00" y="1065.80" width="14.20" height="13.80" fill="none" stroke="#2e2e2e" stroke-width="1.4"/>
<rect x="258.80" y="1065.80" width="14.20" height="13.80" fill="none" stroke="#2e2e2e" stroke-width="1.4"/>
<rect x="279.60" y="1065.80" width="14.20" height="13.80" fill="none" stroke="#2e2e2e" stroke-width="1.4"/>
<rect x="300.40" y="1065.80" width="14.20" height="13.80" fill="none" stroke="#2e2e2e" stroke-width="1.4"/>
<rect x="321.20" y="1065.80" width="14.20" height="13.80" fill="none" stroke="#2e2e2e" stroke-width="1.4"/>
<rect x="342.00" y="1065.80" width="14.20" height="13.80" fill="none" stroke="#2e2e2e" stroke-width="1.4"/>
<rect x="362.80" y="1065.80" width="14.20" height="13.80" fill="none" stroke="#2e2e2e" stroke-width="1.4"/>
<rect x="383.60" y="1065.80" width="14.20" height="13.80" fill="none" stroke="#2e2e2e" stroke-width="1.4"/>
<rect x="404.40" y="1065.80" width="14.20" height="13.80" fill="none" stroke="#2e2e2e" stroke-width="1.4"/>
<rect x="425.20" y="1065.80" width="14.20" height="13.80" fill="none" stroke="#2e2e2e" stroke-width="1.4"/>
<rect x="446.00" y="1065.80" width="14.20" height="13.80" fill="none" stroke="#2e2e2e" stroke-width="1.4"/>
<rect x="466.80" y="1065.80" width="14.20" height="13.80" fill="none" stroke="#2e2e2e" stroke-width="1.4"/>
<rect x="487.60" y="1065.80" width="14.20" height="13.80" fill="none" stroke="#2e2e2e" stroke-width="1.4"/>
<rect x="508.40" y="1065.80" width="14.20" height="13.80" fill="none" stroke="#2e2e2e" stroke-width="1.4"/>
<rect x="529.20" y="1065.80" width="14.20" height="13.80" fill="none" stroke="#2e2e2e" stroke-width="1.4"/>
<rect x="550.00" y="1065.80" width="14.20" height="13.80" fill="none" stroke="#2e2e2e" stroke-width="1.4"/>
<rect x="570.80" y="1065.80" width="14.20" height="13.80" fill="none" stroke="#2e2e2e" stroke-width="1.4"/>
<rect x="134.00" y="1090.70" width="14.20" height="13.80" fill="none" stroke="#2e2e2e" stroke-width="1.4"/>
<rect x="154.80" y="1090.70" width="14.20" height="13.80" fill="none" stroke="#2e2e2e" stroke-width="1.4"/>
<rect x="175.60" y="1090.70" width="14.20" height="13.80" fill="none" stroke="#2e2e2e" stroke-width="1.4"/>
<rect x="196.40" y="1090.70" width="14.20" height="13.80" fill="none" stroke="#2e2e2e" stroke-width="1.4"/>
<rect x="217.20" y="1090.70" width="14.20" height="13.80" fill="none" stroke="#2e2e2e" stroke-width="1.4"/>
<rect x="238.00" y="1090.70" width="14.20" height="13.80" fill="none" stroke="#2e2e2e" stroke-width="1.4"/>
<rect x="258.80" y="1090.70" width="14.20" height="13.80" fill="none" stroke="#2e2e2e" stroke-width="1.4"/>
<rect x="279.60" y="1090.70" width="14.20" height="13.80" fill="none" stroke="#2e2e2e" stroke-width="1.4"/>
<rect x="300.40" y="1090.70" width="14.20" height="13.80" fill="none" stroke="#2e2e2e" stroke-width="1.4"/>
<rect x="321.20" y="1090.70" width="14.20" height="13.80" fill="none" stroke="#2e2e2e" stroke-width="1.4"/>
<rect x="342.00" y="1090.70" width="14.20" height="13.80" fill="none" stroke="#2e2e2e" stroke-width="1.4"/>
<rect x="362.80" y="1090.70" width="14.20" height="13.80" fill="none" stroke="#2e2e2e" stroke-width="1.4"/>
<rect x="383.60" y="1090.70" width="14.20" height="13.80" fill="none" stroke="#2e2e2e" stroke-width="1.4"/>
<rect x="404.40" y="1090.70" width="14.20" height="13.80" fill="none" stroke="#2e2e2e" stroke-width="1.4"/>
<rect x="425.20" y="1090.70" width="14.20" height="13.80" fill="none" stroke="#2e2e2e" stroke-width="1.4"/>
<rect x="446.00" y="1090.70" width="14.20" height="13.80" fill="none" stroke="#2e2e2e" stroke-width="1.4"/>
<rect x="466.80" y="1090.70" width="14.20" height="13.80" fill="none" stroke="#2e2e2e" stroke-width="1.4"/>
<rect x="487.60" y="1090.70" width="14.20" height="13.80" fill="none" stroke="#2e2e2e" stroke-width="1.4"/>
<rect x="508.40" y="1090.70" width="14.20" height="13.80" fill="none" stroke="#2e2e2e" stroke-width="1.4"/>
<rect x="529.20" y="1090.70" width="14.20" height="13.80" fill="none" stroke="#2e2e2e" stroke-width="1.4"/>
<rect x="550.00" y="1090.70" width="14.20" height="13.80" fill="none" stroke="#2e2e2e" stroke-width="1.4"/>
<rect x="570.80" y="1090.70" width="14.20" height="13.80" fill="none" stroke="#2e2e2e" stroke-width="1.4"/>
<rect x="134.00" y="1115.80" width="14.20" height="13.80" fill="none" stroke="#2e2e2e" stroke-width="1.4"/>
<rect x="154.80" y="1115.80" width="14.20" height="13.80" fill="none" stroke="#2e2e2e" stroke-width="1.4"/>
<rect x="175.60" y="1115.80" width="14.20" height="13.80" fill="none" stroke="#2e2e2e" stroke-width="1.4"/>
<rect x="196.40" y="1115.80" width="14.20" height="13.80" fill="none" stroke="#2e2e2e" stroke-width="1.4"/>
<rect x="217.20" y="1115.80" width="14.20" height="13.80" fill="none" stroke="#2e2e2e" stroke-width="1.4"/>
<rect x="238.00" y="1115.80" width="14.20" height="13.80" fill="none" stroke="#2e2e2e" stroke-width="1.4"/>
<rect x="258.80" y="1115.80" width="14.20" height="13.80" fill="none" stroke="#2e2e2e" stroke-width="1.4"/>
<rect x="279.60" y="1115.80" width="14.20" height="13.80" fill="none" stroke="#2e2e2e" stroke-width="1.4"/>
<rect x="300.40" y="1115.80" width="14.20" height="13.80" fill="none" stroke="#2e2e2e" stroke-width="1.4"/>
<rect x="321.20" y="1115.80" width="14.20" height="13.80" fill="none" stroke="#2e2e2e" stroke-width="1.4"/>
<rect x="342.00" y="1115.80" width="14.20" height="13.80" fill="none" stroke="#2e2e2e" stroke-width="1.4"/>
<rect x="362.80" y="1115.80" width="14.20" height="13.80" fill="none" stroke="#2e2e2e" stroke-width="1.4"/>
<rect x="383.60" y="1115.80" width="14.20" height="13.80" fill="none" stroke="#2e2e2e" stroke-width="1.4"/>
<rect x="404.40" y="1115.80" width="14.20" height="13.80" fill="none" stroke="#2e2e2e" stroke-width="1.4"/>
<rect x="425.20" y="1115.80" width="14.20" height="13.80" fill="none" stroke="#2e2e2e" stroke-width="1.4"/>
<rect x="446.00" y="1115.80" width="14.20" height="13.80" fill="none" stroke="#2e2e2e" stroke-width="1.4"/>
<rect x="466.80" y="1115.80" width="14.20" height="13.80" fill="none" stroke="#2e2e2e" stroke-width="1.4"/>
<rect x="487.60" y="1115.80" width="14.20" height="13.80" fill="none" stroke="#2e2e2e" stroke-width="1.4"/>
<rect x="508.40" y="1115.80" width="14.20" height="13.80" fill="none" stroke="#2e2e2e" stroke-width="1.4"/>
<rect x="529.20" y="1115.80" width="14.20" height="13.80" fill="none" stroke="#2e2e2e" stroke-width="1.4"/>
<rect x="550.00" y="1115.80" width="14.20" height="13.80" fill="none" stroke="#2e2e2e" stroke-width="1.4"/>
<rect x="570.80" y="1115.80" width="14.20" height="13.80" fill="none" stroke="#2e2e2e" stroke-width="1.4"/>
<rect x="134.00" y="1140.80" width="14.20" height="13.80" fill="none" stroke="#2e2e2e" stroke-width="1.4"/>
<rect x="154.80" y="1140.80" width="14.20" height="13.80" fill="none" stroke="#2e2e2e" stroke-width="1.4"/>
<rect x="175.60" y="1140.80" width="14.20" height="13.80" fill="none" stroke="#2e2e2e" stroke-width="1.4"/>
<rect x="196.40" y="1140.80" width="14.20" height="13.80" fill="none" stroke="#2e2e2e" stroke-width="1.4"/>
<rect x="217.20" y="1140.80" width="14.20" height="13.80" fill="none" stroke="#2e2e2e" stroke-width="1.4"/>
<rect x="238.00" y="1140.80" width="14.20" height="13.80" fill="none" stroke="#2e2e2e" stroke-width="1.4"/>
<rect x="258.80" y="1140.80" width="14.20" height="13.80" fill="none" stroke="#2e2e2e" stroke-width="1.4"/>
<rect x="92.90" y="1202.00" width="14.20" height="13.80" fill="none" stroke="#2e2e2e" stroke-width="1.4"/>
<rect x="113.65" y="1202.00" width="14.20" height="13.80" fill="none" stroke="#2e2e2e" stroke-width="1.4"/>
<rect x="134.40" y="1202.00" width="14.20" height="13.80" fill="none" stroke="#2e2e2e" stroke-width="1.4"/>
<rect x="155.15" y="1202.00" width="14.20" height="13.80" fill="none" stroke="#2e2e2e" stroke-width="1.4"/>
<rect x="175.90" y="1202.00" width="14.60" height="13.80" fill="none" stroke="#2e2e2e" stroke-width="1.4"/>
<rect x="191.80" y="1202.00" width="14.60" height="13.80" fill="none" stroke="#2e2e2e" stroke-width="1.4"/>
<rect x="207.70" y="1202.00" width="14.60" height="13.80" fill="none" stroke="#2e2e2e" stroke-width="1.4"/>
<rect x="223.70" y="1202.00" width="14.60" height="13.80" fill="none" stroke="#2e2e2e" stroke-width="1.4"/>
<rect x="244.10" y="1202.00" width="14.20" height="13.80" fill="none" stroke="#2e2e2e" stroke-width="1.4"/>
<rect x="264.70" y="1202.00" width="14.20" height="13.80" fill="none" stroke="#2e2e2e" stroke-width="1.4"/>
<rect x="285.30" y="1202.00" width="14.20" height="13.80" fill="none" stroke="#2e2e2e" stroke-width="1.4"/>
<rect x="305.90" y="1202.00" width="14.20" height="13.80" fill="none" stroke="#2e2e2e" stroke-width="1.4"/>
<rect x="326.50" y="1202.00" width="14.20" height="13.80" fill="none" stroke="#2e2e2e" stroke-width="1.4"/>
<rect x="347.10" y="1202.00" width="14.20" height="13.80" fill="none" stroke="#2e2e2e" stroke-width="1.4"/>
<rect x="367.70" y="1202.00" width="14.20" height="13.80" fill="none" stroke="#2e2e2e" stroke-width="1.4"/>
<rect x="388.30" y="1202.00" width="14.20" height="13.80" fill="none" stroke="#2e2e2e" stroke-width="1.4"/>
<rect x="93.10" y="1226.70" width="14.20" height="13.80" fill="none" stroke="#2e2e2e" stroke-width="1.4"/>
<rect x="113.93" y="1226.70" width="14.20" height="13.80" fill="none" stroke="#2e2e2e" stroke-width="1.4"/>
<rect x="134.76" y="1226.70" width="14.20" height="13.80" fill="none" stroke="#2e2e2e" stroke-width="1.4"/>
<rect x="155.59" y="1226.70" width="14.20" height="13.80" fill="none" stroke="#2e2e2e" stroke-width="1.4"/>
<rect x="176.42" y="1226.70" width="14.20" height="13.80" fill="none" stroke="#2e2e2e" stroke-width="1.4"/>
<rect x="197.25" y="1226.70" width="14.20" height="13.80" fill="none" stroke="#2e2e2e" stroke-width="1.4"/>
<rect x="218.08" y="1226.70" width="14.20" height="13.80" fill="none" stroke="#2e2e2e" stroke-width="1.4"/>
<rect x="238.91" y="1226.70" width="14.20" height="13.80" fill="none" stroke="#2e2e2e" stroke-width="1.4"/>
<rect x="259.74" y="1226.70" width="14.20" height="13.80" fill="none" stroke="#2e2e2e" stroke-width="1.4"/>
<rect x="280.57" y="1226.70" width="14.20" height="13.80" fill="none" stroke="#2e2e2e" stroke-width="1.4"/>
<rect x="301.40" y="1226.70" width="14.20" height="13.80" fill="none" stroke="#2e2e2e" stroke-width="1.4"/>
<rect x="322.23" y="1226.70" width="14.20" height="13.80" fill="none" stroke="#2e2e2e" stroke-width="1.4"/>
<rect x="343.06" y="1226.70" width="14.20" height="13.80" fill="none" stroke="#2e2e2e" stroke-width="1.4"/>
<rect x="363.89" y="1226.70" width="14.20" height="13.80" fill="none" stroke="#2e2e2e" stroke-width="1.4"/>
<rect x="384.72" y="1226.70" width="14.20" height="13.80" fill="none" stroke="#2e2e2e" stroke-width="1.4"/>
<rect x="405.55" y="1226.70" width="14.20" height="13.80" fill="none" stroke="#2e2e2e" stroke-width="1.4"/>
<rect x="426.38" y="1226.70" width="14.20" height="13.80" fill="none" stroke="#2e2e2e" stroke-width="1.4"/>
<rect x="447.21" y="1226.70" width="14.20" height="13.80" fill="none" stroke="#2e2e2e" stroke-width="1.4"/>
<rect x="468.04" y="1226.70" width="14.20" height="13.80" fill="none" stroke="#2e2e2e" stroke-width="1.4"/>
<rect x="488.87" y="1226.70" width="14.20" height="13.80" fill="none" stroke="#2e2e2e" stroke-width="1.4"/>
<rect x="509.70" y="1226.70" width="14.20" height="13.80" fill="none" stroke="#2e2e2e" stroke-width="1.4"/>
<rect x="530.53" y="1226.70" width="14.20" height="13.80" fill="none" stroke="#2e2e2e" stroke-width="1.4"/>
<rect x="551.36" y="1226.70" width="14.20" height="13.80" fill="none" stroke="#2e2e2e" stroke-width="1.4"/>
<rect x="572.19" y="1226.70" width="14.20" height="13.80" fill="none" stroke="#2e2e2e" stroke-width="1.4"/>
<rect x="593.02" y="1226.70" width="14.20" height="13.80" fill="none" stroke="#2e2e2e" stroke-width="1.4"/>
<rect x="613.85" y="1226.70" width="14.20" height="13.80" fill="none" stroke="#2e2e2e" stroke-width="1.4"/>
<circle cx="100.1" cy="1277.6" r="10.0" fill="none" stroke="#444" stroke-width="0.9"/>
<text transform="translate(100.1 1283.69) scale(0.84 1)" x="0" y="0" font-size="17" text-anchor="middle" fill="#111">3</text>
<rect x="113.70" y="1271.00" width="14.20" height="13.80" fill="none" stroke="#2e2e2e" stroke-width="1.4"/>
<rect x="134.53" y="1271.00" width="14.20" height="13.80" fill="none" stroke="#2e2e2e" stroke-width="1.4"/>
<rect x="155.36" y="1271.00" width="14.20" height="13.80" fill="none" stroke="#2e2e2e" stroke-width="1.4"/>
<rect x="176.19" y="1271.00" width="14.20" height="13.80" fill="none" stroke="#2e2e2e" stroke-width="1.4"/>
<rect x="197.02" y="1271.00" width="14.20" height="13.80" fill="none" stroke="#2e2e2e" stroke-width="1.4"/>
<rect x="217.85" y="1271.00" width="14.20" height="13.80" fill="none" stroke="#2e2e2e" stroke-width="1.4"/>
<rect x="238.68" y="1271.00" width="14.20" height="13.80" fill="none" stroke="#2e2e2e" stroke-width="1.4"/>
<rect x="259.51" y="1271.00" width="14.20" height="13.80" fill="none" stroke="#2e2e2e" stroke-width="1.4"/>
<rect x="280.34" y="1271.00" width="14.20" height="13.80" fill="none" stroke="#2e2e2e" stroke-width="1.4"/>
<rect x="301.17" y="1271.00" width="14.20" height="13.80" fill="none" stroke="#2e2e2e" stroke-width="1.4"/>
<rect x="322.00" y="1271.00" width="14.20" height="13.80" fill="none" stroke="#2e2e2e" stroke-width="1.4"/>
<rect x="342.83" y="1271.00" width="14.20" height="13.80" fill="none" stroke="#2e2e2e" stroke-width="1.4"/>
<rect x="363.66" y="1271.00" width="14.20" height="13.80" fill="none" stroke="#2e2e2e" stroke-width="1.4"/>
<rect x="384.49" y="1271.00" width="14.20" height="13.80" fill="none" stroke="#2e2e2e" stroke-width="1.4"/>
<rect x="405.32" y="1271.00" width="14.20" height="13.80" fill="none" stroke="#2e2e2e" stroke-width="1.4"/>
<rect x="426.15" y="1271.00" width="14.20" height="13.80" fill="none" stroke="#2e2e2e" stroke-width="1.4"/>
<rect x="446.98" y="1271.00" width="14.20" height="13.80" fill="none" stroke="#2e2e2e" stroke-width="1.4"/>
<rect x="467.81" y="1271.00" width="14.20" height="13.80" fill="none" stroke="#2e2e2e" stroke-width="1.4"/>
<rect x="488.64" y="1271.00" width="14.20" height="13.80" fill="none" stroke="#2e2e2e" stroke-width="1.4"/>
<rect x="509.47" y="1271.00" width="14.20" height="13.80" fill="none" stroke="#2e2e2e" stroke-width="1.4"/>
<rect x="530.30" y="1271.00" width="14.20" height="13.80" fill="none" stroke="#2e2e2e" stroke-width="1.4"/>
<rect x="551.13" y="1271.00" width="14.20" height="13.80" fill="none" stroke="#2e2e2e" stroke-width="1.4"/>
<rect x="571.96" y="1271.00" width="14.20" height="13.80" fill="none" stroke="#2e2e2e" stroke-width="1.4"/>
<rect x="592.79" y="1271.00" width="14.20" height="13.80" fill="none" stroke="#2e2e2e" stroke-width="1.4"/>
<rect x="613.62" y="1271.00" width="14.20" height="13.80" fill="none" stroke="#2e2e2e" stroke-width="1.4"/>
<rect x="93.10" y="1295.40" width="14.20" height="13.80" fill="none" stroke="#2e2e2e" stroke-width="1.4"/>
<rect x="113.93" y="1295.40" width="14.20" height="13.80" fill="none" stroke="#2e2e2e" stroke-width="1.4"/>
<rect x="134.76" y="1295.40" width="14.20" height="13.80" fill="none" stroke="#2e2e2e" stroke-width="1.4"/>
<rect x="155.59" y="1295.40" width="14.20" height="13.80" fill="none" stroke="#2e2e2e" stroke-width="1.4"/>
<rect x="176.42" y="1295.40" width="14.20" height="13.80" fill="none" stroke="#2e2e2e" stroke-width="1.4"/>
<rect x="197.25" y="1295.40" width="14.20" height="13.80" fill="none" stroke="#2e2e2e" stroke-width="1.4"/>
<rect x="218.08" y="1295.40" width="14.20" height="13.80" fill="none" stroke="#2e2e2e" stroke-width="1.4"/>
<rect x="238.91" y="1295.40" width="14.20" height="13.80" fill="none" stroke="#2e2e2e" stroke-width="1.4"/>
<rect x="259.74" y="1295.40" width="14.20" height="13.80" fill="none" stroke="#2e2e2e" stroke-width="1.4"/>
<rect x="280.57" y="1295.40" width="14.20" height="13.80" fill="none" stroke="#2e2e2e" stroke-width="1.4"/>
<rect x="301.40" y="1295.40" width="14.20" height="13.80" fill="none" stroke="#2e2e2e" stroke-width="1.4"/>
<rect x="322.23" y="1295.40" width="14.20" height="13.80" fill="none" stroke="#2e2e2e" stroke-width="1.4"/>
<rect x="343.06" y="1295.40" width="14.20" height="13.80" fill="none" stroke="#2e2e2e" stroke-width="1.4"/>
<rect x="363.89" y="1295.40" width="14.20" height="13.80" fill="none" stroke="#2e2e2e" stroke-width="1.4"/>
<rect x="384.72" y="1295.40" width="14.20" height="13.80" fill="none" stroke="#2e2e2e" stroke-width="1.4"/>
<rect x="405.55" y="1295.40" width="14.20" height="13.80" fill="none" stroke="#2e2e2e" stroke-width="1.4"/>
<rect x="426.38" y="1295.40" width="14.20" height="13.80" fill="none" stroke="#2e2e2e" stroke-width="1.4"/>
<rect x="447.21" y="1295.40" width="14.20" height="13.80" fill="none" stroke="#2e2e2e" stroke-width="1.4"/>
<rect x="468.04" y="1295.40" width="14.20" height="13.80" fill="none" stroke="#2e2e2e" stroke-width="1.4"/>
<rect x="488.87" y="1295.40" width="14.20" height="13.80" fill="none" stroke="#2e2e2e" stroke-width="1.4"/>
<rect x="509.70" y="1295.40" width="14.20" height="13.80" fill="none" stroke="#2e2e2e" stroke-width="1.4"/>
<rect x="530.53" y="1295.40" width="14.20" height="13.80" fill="none" stroke="#2e2e2e" stroke-width="1.4"/>
<rect x="551.36" y="1295.40" width="14.20" height="13.80" fill="none" stroke="#2e2e2e" stroke-width="1.4"/>
<rect x="572.19" y="1295.40" width="14.20" height="13.80" fill="none" stroke="#2e2e2e" stroke-width="1.4"/>
<rect x="593.02" y="1295.40" width="14.20" height="13.80" fill="none" stroke="#2e2e2e" stroke-width="1.4"/>
<rect x="613.85" y="1295.40" width="14.20" height="13.80" fill="none" stroke="#2e2e2e" stroke-width="1.4"/>
<rect x="93.10" y="1320.50" width="14.20" height="13.80" fill="none" stroke="#2e2e2e" stroke-width="1.4"/>
<rect x="113.93" y="1320.50" width="14.20" height="13.80" fill="none" stroke="#2e2e2e" stroke-width="1.4"/>
<rect x="134.76" y="1320.50" width="14.20" height="13.80" fill="none" stroke="#2e2e2e" stroke-width="1.4"/>
<rect x="155.59" y="1320.50" width="14.20" height="13.80" fill="none" stroke="#2e2e2e" stroke-width="1.4"/>
<rect x="176.42" y="1320.50" width="14.20" height="13.80" fill="none" stroke="#2e2e2e" stroke-width="1.4"/>
<rect x="197.25" y="1320.50" width="14.20" height="13.80" fill="none" stroke="#2e2e2e" stroke-width="1.4"/>
<rect x="218.08" y="1320.50" width="14.20" height="13.80" fill="none" stroke="#2e2e2e" stroke-width="1.4"/>
<rect x="238.91" y="1320.50" width="14.20" height="13.80" fill="none" stroke="#2e2e2e" stroke-width="1.4"/>
<rect x="91.89999999999999" y="1348.1" width="16.5" height="7.999999999999999" fill="none" stroke="#333" stroke-width="1.2"/>
<line x1="96.08" y1="1347.5" x2="96.08" y2="1356.7" stroke="#333" stroke-width="1.1"/>
<line x1="100.50" y1="1347.5" x2="100.50" y2="1356.7" stroke="#333" stroke-width="1.1"/>
<line x1="104.93" y1="1347.5" x2="104.93" y2="1356.7" stroke="#333" stroke-width="1.1"/>
<rect x="113.90" y="1346.00" width="14.20" height="13.80" fill="none" stroke="#2e2e2e" stroke-width="1.4"/>
<rect x="134.60" y="1346.00" width="14.20" height="13.80" fill="none" stroke="#2e2e2e" stroke-width="1.4"/>
<rect x="155.30" y="1346.00" width="14.20" height="13.80" fill="none" stroke="#2e2e2e" stroke-width="1.4"/>
<rect x="176.00" y="1346.00" width="14.20" height="13.80" fill="none" stroke="#2e2e2e" stroke-width="1.4"/>
<rect x="196.70" y="1346.00" width="14.20" height="13.80" fill="none" stroke="#2e2e2e" stroke-width="1.4"/>
<rect x="217.40" y="1346.00" width="14.20" height="13.80" fill="none" stroke="#2e2e2e" stroke-width="1.4"/>
<rect x="238.10" y="1346.00" width="14.20" height="13.80" fill="none" stroke="#2e2e2e" stroke-width="1.4"/>
<rect x="258.80" y="1346.00" width="14.20" height="13.80" fill="none" stroke="#2e2e2e" stroke-width="1.4"/>
<rect x="274.80" y="1346.00" width="14.30" height="13.80" fill="none" stroke="#2e2e2e" stroke-width="1.4"/>
<rect x="295.70" y="1346.00" width="14.30" height="13.80" fill="none" stroke="#2e2e2e" stroke-width="1.4"/>
<rect x="311.40" y="1346.00" width="14.30" height="13.80" fill="none" stroke="#2e2e2e" stroke-width="1.4"/>
<circle cx="100.0" cy="1385.7" r="10.0" fill="none" stroke="#444" stroke-width="0.9"/>
<text transform="translate(100.0 1391.79) scale(0.84 1)" x="0" y="0" font-size="17" text-anchor="middle" fill="#111">4</text>
<rect x="113.70" y="1378.90" width="14.20" height="13.80" fill="none" stroke="#2e2e2e" stroke-width="1.4"/>
<rect x="134.53" y="1378.90" width="14.20" height="13.80" fill="none" stroke="#2e2e2e" stroke-width="1.4"/>
<rect x="155.36" y="1378.90" width="14.20" height="13.80" fill="none" stroke="#2e2e2e" stroke-width="1.4"/>
<rect x="176.19" y="1378.90" width="14.20" height="13.80" fill="none" stroke="#2e2e2e" stroke-width="1.4"/>
<rect x="197.02" y="1378.90" width="14.20" height="13.80" fill="none" stroke="#2e2e2e" stroke-width="1.4"/>
<rect x="217.85" y="1378.90" width="14.20" height="13.80" fill="none" stroke="#2e2e2e" stroke-width="1.4"/>
<rect x="238.68" y="1378.90" width="14.20" height="13.80" fill="none" stroke="#2e2e2e" stroke-width="1.4"/>
<rect x="259.51" y="1378.90" width="14.20" height="13.80" fill="none" stroke="#2e2e2e" stroke-width="1.4"/>
<rect x="280.34" y="1378.90" width="14.20" height="13.80" fill="none" stroke="#2e2e2e" stroke-width="1.4"/>
<rect x="301.17" y="1378.90" width="14.20" height="13.80" fill="none" stroke="#2e2e2e" stroke-width="1.4"/>
<rect x="322.00" y="1378.90" width="14.20" height="13.80" fill="none" stroke="#2e2e2e" stroke-width="1.4"/>
<rect x="342.83" y="1378.90" width="14.20" height="13.80" fill="none" stroke="#2e2e2e" stroke-width="1.4"/>
<rect x="363.66" y="1378.90" width="14.20" height="13.80" fill="none" stroke="#2e2e2e" stroke-width="1.4"/>
<rect x="384.49" y="1378.90" width="14.20" height="13.80" fill="none" stroke="#2e2e2e" stroke-width="1.4"/>
<rect x="405.32" y="1378.90" width="14.20" height="13.80" fill="none" stroke="#2e2e2e" stroke-width="1.4"/>
<rect x="426.15" y="1378.90" width="14.20" height="13.80" fill="none" stroke="#2e2e2e" stroke-width="1.4"/>
<rect x="446.98" y="1378.90" width="14.20" height="13.80" fill="none" stroke="#2e2e2e" stroke-width="1.4"/>
<rect x="467.81" y="1378.90" width="14.20" height="13.80" fill="none" stroke="#2e2e2e" stroke-width="1.4"/>
<rect x="488.64" y="1378.90" width="14.20" height="13.80" fill="none" stroke="#2e2e2e" stroke-width="1.4"/>
<rect x="509.47" y="1378.90" width="14.20" height="13.80" fill="none" stroke="#2e2e2e" stroke-width="1.4"/>
<rect x="530.30" y="1378.90" width="14.20" height="13.80" fill="none" stroke="#2e2e2e" stroke-width="1.4"/>
<text x="972.5" y="1696" font-size="19.2" textLength="102.2" lengthAdjust="spacingAndGlyphs" fill="#111">KZ039HK2A</text>
<rect x="1077.15" y="1683.85" width="13.00" height="11.50" fill="none" stroke="#2e2e2e" stroke-width="1.3"/>
<text x="1093.6" y="1696" font-size="19.2" fill="#111">5</text>
<rect x="1107.55" y="1683.85" width="11.90" height="11.50" fill="none" stroke="#2e2e2e" stroke-width="1.3"/>
<path d="M 1124.3,1685.8 Q 1127.6,1684.6 1128.6,1682.2 L 1128.6,1696" fill="none" stroke="#111" stroke-width="1.9"/>
<rect x="1136.25" y="1683.85" width="10.70" height="11.50" fill="none" stroke="#2e2e2e" stroke-width="1.3"/>
<text x="1142.4" y="1696" font-size="19.2" fill="#111">2</text>
<path d="M 390.6,378.5 H 264.6 V 185.6 H 583.4 V 378.5 H 405.6" fill="none" stroke="#111" stroke-width="1.3" stroke-linejoin="round" />
<polyline points="390.6,378.5 347.2,493.8 405.6,378.5" fill="none" stroke="#111" stroke-width="1.0" stroke-linejoin="round" />
<polyline points="333,331 333,221 389,188.5" fill="none" stroke="#111" stroke-width="1.6" stroke-linejoin="round" />
<polyline points="343,331 343,227 396.6,195" fill="none" stroke="#111" stroke-width="1.1" stroke-linejoin="round" />
<polyline points="333,221 343,227" fill="none" stroke="#111" stroke-width="1.1" stroke-linejoin="round" />
<rect x="270.93" y="269.82" width="10.95" height="10.95" fill="none" stroke="#2e2e2e" stroke-width="1.25"/>
<rect x="286.23" y="269.82" width="10.95" height="10.95" fill="none" stroke="#2e2e2e" stroke-width="1.25"/>
<rect x="301.53" y="269.82" width="10.95" height="10.95" fill="none" stroke="#2e2e2e" stroke-width="1.25"/>
<polyline points="317.3,275.3 333,275.3" fill="none" stroke="#111" stroke-width="1.2" stroke-linejoin="round" />
<circle cx="333" cy="275.3" r="2.6" fill="#111"/>
<ellipse cx="366" cy="276.5" rx="11.3" ry="15.8" transform="rotate(28 366 276.5)" fill="none" stroke="#111" stroke-width="1.4"/>
<path d="M 357,289.5 Q 374,289 375.5,263" fill="none" stroke="#111" stroke-width="1.0" stroke-linejoin="round" />
<ellipse cx="366.8" cy="252.6" rx="1.9" ry="2.8" transform="rotate(30 366.8 252.6)" fill="none" stroke="#111" stroke-width="0.9"/>
<ellipse cx="366.8" cy="299.2" rx="1.9" ry="2.8" transform="rotate(30 366.8 299.2)" fill="none" stroke="#111" stroke-width="0.9"/>
<polyline points="368.5,254 407.5,277.5" fill="none" stroke="#111" stroke-width="0.9" stroke-linejoin="round" />
<polyline points="368.5,300.5 384,309" fill="none" stroke="#111" stroke-width="0.9" stroke-linejoin="round" />
<polygon points="386.75,313.24 386.75,305.04 395.92,299.25 399.3,293.94 408.46,289.12 408.94,294.91 407.01,298.77 403.15,305.04 394.47,311.31 394.47,313.72" fill="#fff" stroke="#111" stroke-width="1.3" stroke-linejoin="round" />
<line x1="398.33" y1="304.56" x2="399.54" y2="305.52" stroke="#111" stroke-width="0.7"/>
<line x1="399.42" y1="302.99" x2="400.62" y2="303.95" stroke="#111" stroke-width="0.7"/>
<line x1="400.50" y1="301.42" x2="401.71" y2="302.39" stroke="#111" stroke-width="0.7"/>
<line x1="401.59" y1="299.85" x2="402.79" y2="300.82" stroke="#111" stroke-width="0.7"/>
<line x1="402.67" y1="298.29" x2="403.88" y2="299.25" stroke="#111" stroke-width="0.7"/>
<line x1="403.76" y1="296.72" x2="404.96" y2="297.68" stroke="#111" stroke-width="0.7"/>
<line x1="404.84" y1="295.15" x2="406.05" y2="296.11" stroke="#111" stroke-width="0.7"/>
<line x1="405.93" y1="293.58" x2="407.13" y2="294.55" stroke="#111" stroke-width="0.7"/>
<line x1="407.01" y1="292.01" x2="408.22" y2="292.98" stroke="#111" stroke-width="0.7"/>
<polyline points="388.68,306.49 394.47,309.86" fill="none" stroke="#111" stroke-width="0.9" stroke-linejoin="round" />
<polyline points="390.13,312.76 392.54,309.38 393.99,311.31" fill="none" stroke="#111" stroke-width="1.2" stroke-linejoin="round" />
<polygon points="338.4,347.9 397,314.5 403.2,315.6 405.4,331.6 345.1,366.6 339.2,363.5" fill="#fff" stroke="#111" stroke-width="1.6" stroke-linejoin="round" />
<polyline points="341.5,351.5 403.2,315.6" fill="none" stroke="#111" stroke-width="1.0" stroke-linejoin="round" />
<polyline points="344.5,366 344,350" fill="none" stroke="#111" stroke-width="1.0" stroke-linejoin="round" />
<path d="M 339.8,352 L 343.5,350 L 344,364" fill="none" stroke="#111" stroke-width="0.9" stroke-linejoin="round" />
<rect x="384" y="315.5" width="2.6" height="2.2" fill="none" stroke="#111" stroke-width="0.8"/>
<path d="M 368.6,323 L 373,320.5 L 376,322 L 371,325" fill="none" stroke="#111" stroke-width="1.0" stroke-linejoin="round" />
<ellipse cx="358.3" cy="351.2" rx="6.4" ry="5.6" transform="rotate(-30 358.3 351.2)" fill="none" stroke="#111" stroke-width="1.5"/>
<ellipse cx="359.6" cy="350.6" rx="3.8" ry="3.6" fill="none" stroke="#111" stroke-width="1.3"/>
<ellipse cx="371.6" cy="343.4" rx="3.6" ry="2.4" transform="rotate(-30 371.6 343.4)" fill="none" stroke="#111" stroke-width="1.2"/>
<circle cx="383.3" cy="337.2" r="3.9" fill="none" stroke="#111" stroke-width="1.5"/>
<path d="M 381.3,335.6 L 385.3,338.8 M 385.3,335.6 L 381.3,338.8" stroke="#111" stroke-width="0.9"/>
<rect x="403.2" y="316" width="3.2" height="14.5" fill="#888" stroke="#111" stroke-width="1.2"/>
<polygon points="408.46,281.88 410.87,278.99 418.59,275.13 426.31,273.2 428.72,274.65 428.96,327.23 426.31,331.09 413.77,337.36 408.94,335.43 408.46,320.48 408.94,318.06 407.01,315.65 405.08,313.24 408.46,298.77 408.94,290.08" fill="#fff" stroke="#111" stroke-width="1.5" stroke-linejoin="round" />
<polyline points="411.11,296.84 411.11,282.37 413.29,279.47 421.49,277.3" fill="none" stroke="#111" stroke-width="1.0" stroke-linejoin="round" />
<polyline points="411.36,297.32 413.77,298.29 422.45,293.46 425.34,293.94 425.83,308.42 421.97,315.17 413.77,320.48 411.36,322.89 411.36,335.43" fill="none" stroke="#111" stroke-width="1.3" stroke-linejoin="round" />
<polyline points="408.94,297.8 415.7,299.73 415.7,306.0 413.29,309.86 406.05,313.24" fill="none" stroke="#111" stroke-width="1.1" stroke-linejoin="round" />
<polyline points="416.66,304.07 425.34,308.42" fill="none" stroke="#111" stroke-width="1.0" stroke-linejoin="round" />
<polyline points="413.77,310.34 421.49,314.69" fill="none" stroke="#111" stroke-width="1.0" stroke-linejoin="round" />
<polyline points="425.83,297.8 425.83,307.93" fill="none" stroke="#999" stroke-width="0.7" stroke-linejoin="round" />
<circle cx="419.6" cy="283.8" r="2.9" fill="none" stroke="#111" stroke-width="1.3"/>
<circle cx="419.8" cy="284.3" r="1.3" fill="none" stroke="#111" stroke-width="0.8"/>
<circle cx="419.6" cy="328.2" r="2.9" fill="none" stroke="#111" stroke-width="1.3"/>
<circle cx="419.8" cy="328.7" r="1.3" fill="none" stroke="#111" stroke-width="0.8"/>
<polyline points="420.3,284.5 440.5,296" fill="none" stroke="#111" stroke-width="1.1" stroke-linejoin="round" />
<polyline points="420.3,329 440.5,341" fill="none" stroke="#111" stroke-width="1.1" stroke-linejoin="round" />
<polygon points="439.72,296.99 453.14,306.22 455.47,302.26 440.88,295.01" fill="#222" stroke="#111" stroke-width="1.2"/>
<line x1="441.32" y1="297.48" x2="442.60" y2="296.47" stroke="#fff" stroke-width="0.7"/>
<line x1="442.68" y1="298.36" x2="444.04" y2="297.24" stroke="#fff" stroke-width="0.7"/>
<line x1="444.05" y1="299.24" x2="445.47" y2="298.00" stroke="#fff" stroke-width="0.7"/>
<line x1="445.41" y1="300.13" x2="446.91" y2="298.77" stroke="#fff" stroke-width="0.7"/>
<line x1="446.78" y1="301.01" x2="448.35" y2="299.53" stroke="#fff" stroke-width="0.7"/>
<line x1="448.14" y1="301.90" x2="449.78" y2="300.30" stroke="#fff" stroke-width="0.7"/>
<line x1="449.51" y1="302.78" x2="451.22" y2="301.06" stroke="#fff" stroke-width="0.7"/>
<line x1="450.88" y1="303.66" x2="452.65" y2="301.83" stroke="#fff" stroke-width="0.7"/>
<line x1="452.24" y1="304.55" x2="454.09" y2="302.59" stroke="#fff" stroke-width="0.7"/>
<ellipse cx="455.60" cy="305.00" rx="3.02" ry="4.90" transform="rotate(30.5 455.60 305.00)" fill="#fff" stroke="#111" stroke-width="1.3"/>
<ellipse cx="456.29" cy="305.41" rx="1.44" ry="2.16" transform="rotate(30.5 455.60 305.00)" fill="none" stroke="#111" stroke-width="0.9"/>
<polygon points="439.71,342.19 453.54,351.71 455.88,347.76 440.89,340.21" fill="#222" stroke="#111" stroke-width="1.2"/>
<line x1="441.35" y1="342.71" x2="442.64" y2="341.71" stroke="#fff" stroke-width="0.7"/>
<line x1="442.76" y1="343.62" x2="444.12" y2="342.50" stroke="#fff" stroke-width="0.7"/>
<line x1="444.17" y1="344.53" x2="445.60" y2="343.29" stroke="#fff" stroke-width="0.7"/>
<line x1="445.57" y1="345.45" x2="447.07" y2="344.09" stroke="#fff" stroke-width="0.7"/>
<line x1="446.98" y1="346.36" x2="448.55" y2="344.88" stroke="#fff" stroke-width="0.7"/>
<line x1="448.38" y1="347.27" x2="450.02" y2="345.68" stroke="#fff" stroke-width="0.7"/>
<line x1="449.79" y1="348.18" x2="451.50" y2="346.47" stroke="#fff" stroke-width="0.7"/>
<line x1="451.19" y1="349.10" x2="452.98" y2="347.27" stroke="#fff" stroke-width="0.7"/>
<line x1="452.60" y1="350.01" x2="454.45" y2="348.06" stroke="#fff" stroke-width="0.7"/>
<ellipse cx="456.00" cy="350.50" rx="3.02" ry="4.90" transform="rotate(30.6 456.00 350.50)" fill="#fff" stroke="#111" stroke-width="1.3"/>
<ellipse cx="456.69" cy="350.91" rx="1.44" ry="2.16" transform="rotate(30.6 456.00 350.50)" fill="none" stroke="#111" stroke-width="0.9"/>
<rect x="444.23" y="251.62" width="11.25" height="10.95" fill="none" stroke="#2e2e2e" stroke-width="1.25"/>
<rect x="459.83" y="251.62" width="11.25" height="10.95" fill="none" stroke="#2e2e2e" stroke-width="1.25"/>
<rect x="475.43" y="251.62" width="11.25" height="10.95" fill="none" stroke="#2e2e2e" stroke-width="1.25"/>
<polyline points="435,256.6 422,256.6 422,272.5" fill="none" stroke="#111" stroke-width="1.2" stroke-linejoin="round" />
<circle cx="422" cy="272.5" r="2.8" fill="#111"/>
<rect x="481.12" y="298.62" width="10.75" height="10.95" fill="none" stroke="#2e2e2e" stroke-width="1.25"/>
<rect x="495.98" y="298.62" width="10.75" height="10.95" fill="none" stroke="#2e2e2e" stroke-width="1.25"/>
<rect x="510.82" y="298.62" width="10.75" height="10.95" fill="none" stroke="#2e2e2e" stroke-width="1.25"/>
<rect x="525.67" y="298.62" width="10.75" height="10.95" fill="none" stroke="#2e2e2e" stroke-width="1.25"/>
<rect x="540.52" y="298.62" width="10.75" height="10.95" fill="none" stroke="#2e2e2e" stroke-width="1.25"/>
<rect x="555.38" y="298.62" width="10.75" height="10.95" fill="none" stroke="#2e2e2e" stroke-width="1.25"/>
<rect x="479.62" y="317.62" width="11.25" height="10.75" fill="none" stroke="#2e2e2e" stroke-width="1.25"/>
<rect x="492.12" y="317.62" width="11.25" height="10.75" fill="none" stroke="#2e2e2e" stroke-width="1.25"/>
<rect x="502.12" y="317.62" width="8.25" height="10.75" fill="none" stroke="#2e2e2e" stroke-width="1.25"/>
<rect x="511.62" y="317.62" width="11.25" height="10.75" fill="none" stroke="#2e2e2e" stroke-width="1.25"/>
<rect x="524.62" y="317.62" width="11.25" height="10.75" fill="none" stroke="#2e2e2e" stroke-width="1.25"/>
<rect x="537.12" y="317.62" width="11.25" height="10.75" fill="none" stroke="#2e2e2e" stroke-width="1.25"/>
<rect x="549.62" y="317.62" width="11.25" height="10.75" fill="none" stroke="#2e2e2e" stroke-width="1.25"/>
<polyline points="473.6,304 462.5,304" fill="none" stroke="#111" stroke-width="1.2" stroke-linejoin="round" />
<circle cx="462.5" cy="304" r="2.7" fill="#111"/>
<polygon points="145.2,374.7 148.6,373.2 236,423 236,601.5 233,601 145.2,552.5" fill="#fff" stroke="#111" stroke-width="1.6" stroke-linejoin="round" />
<polyline points="146.2,376 232.6,425.3 232.6,600.5" fill="none" stroke="#111" stroke-width="1.0" stroke-linejoin="round" />
<polyline points="232.6,425.3 236,423" fill="none" stroke="#111" stroke-width="1.0" stroke-linejoin="round" />
<polygon points="249.8,430.5 253,429 340.6,478.8 340.6,658 337.8,657.5 249.8,607.5" fill="#fff" stroke="#111" stroke-width="1.6" stroke-linejoin="round" />
<polyline points="250.8,431.8 337.3,481 337.3,657" fill="none" stroke="#111" stroke-width="1.0" stroke-linejoin="round" />
<polyline points="337.3,481 340.6,478.8" fill="none" stroke="#111" stroke-width="1.0" stroke-linejoin="round" />
<polygon points="176.9,420.5 189.1,412.7 224.10000000000002,433.2 224.7,439.2 211.9,446.5 177.5,426.0" fill="#fff" stroke="#111" stroke-width="1.2" stroke-linejoin="round" />
<polyline points="177.5,421.1 211.9,439.8 224.10000000000002,433.2" fill="none" stroke="#111" stroke-width="1.0" stroke-linejoin="round" />
<polyline points="211.9,439.8 211.9,446.5" fill="none" stroke="#111" stroke-width="1.0" stroke-linejoin="round" />
<polygon points="240.5,456.3 252.7,448.5 287.7,469.0 288.3,475.0 275.5,482.3 241.1,461.8" fill="#fff" stroke="#111" stroke-width="1.2" stroke-linejoin="round" />
<polyline points="241.1,456.90000000000003 275.5,475.6 287.7,469.0" fill="none" stroke="#111" stroke-width="1.0" stroke-linejoin="round" />
<polyline points="275.5,475.6 275.5,482.3" fill="none" stroke="#111" stroke-width="1.0" stroke-linejoin="round" />
<g stroke="#111" stroke-width="0.9" stroke-dasharray="3,2.5">
<polyline points="194.5,412 200,408.5" fill="none" stroke="#111" stroke-width="0.9" stroke-linejoin="round" />
<polyline points="224,429.5 229,426.5" fill="none" stroke="#111" stroke-width="0.9" stroke-linejoin="round" />
<polyline points="258.5,447.5 264.5,444" fill="none" stroke="#111" stroke-width="0.9" stroke-linejoin="round" />
<polyline points="287.5,465 293,461.5" fill="none" stroke="#111" stroke-width="0.9" stroke-linejoin="round" />
</g>
<polyline points="210.1,402.5 226.4,392.8" fill="none" stroke="#111" stroke-width="0.9" stroke-linejoin="round" />
<polygon points="228.05,394.55 239.55,387.95 237.65,384.65 226.15,391.25" fill="#222" stroke="#111" stroke-width="1.2"/>
<line x1="229.58" y1="392.79" x2="228.88" y2="390.56" stroke="#fff" stroke-width="0.8"/>
<line x1="231.50" y1="391.69" x2="230.80" y2="389.46" stroke="#fff" stroke-width="0.8"/>
<line x1="233.42" y1="390.59" x2="232.72" y2="388.36" stroke="#fff" stroke-width="0.8"/>
<line x1="235.33" y1="389.49" x2="234.63" y2="387.26" stroke="#fff" stroke-width="0.8"/>
<line x1="237.25" y1="388.39" x2="236.55" y2="386.16" stroke="#fff" stroke-width="0.8"/>
<path d="M 239.55,387.95 L 243.61,387.80 A 3.04 3.80 -29.9 0 0 239.83,381.21 L 237.65,384.65 Z" fill="#fff" stroke="#111" stroke-width="1.3"/>
<polyline points="239.5,421 256.7,412.2" fill="none" stroke="#111" stroke-width="0.9" stroke-linejoin="round" />
<polygon points="257.62,413.86 268.42,407.86 266.58,404.54 255.78,410.54" fill="#222" stroke="#111" stroke-width="1.2"/>
<line x1="259.05" y1="412.20" x2="258.38" y2="409.96" stroke="#fff" stroke-width="0.8"/>
<line x1="260.85" y1="411.20" x2="260.18" y2="408.96" stroke="#fff" stroke-width="0.8"/>
<line x1="262.65" y1="410.20" x2="261.98" y2="407.96" stroke="#fff" stroke-width="0.8"/>
<line x1="264.45" y1="409.20" x2="263.78" y2="406.96" stroke="#fff" stroke-width="0.8"/>
<line x1="266.25" y1="408.20" x2="265.58" y2="405.96" stroke="#fff" stroke-width="0.8"/>
<path d="M 268.42,407.86 L 272.49,407.77 A 3.04 3.80 -29.1 0 0 268.80,401.13 L 266.58,404.54 Z" fill="#fff" stroke="#111" stroke-width="1.3"/>
<polyline points="273,437 289.8,426.7" fill="none" stroke="#111" stroke-width="0.9" stroke-linejoin="round" />
<polygon points="290.69,428.38 302.19,422.28 300.41,418.92 288.91,425.02" fill="#222" stroke="#111" stroke-width="1.2"/>
<line x1="292.25" y1="426.69" x2="291.62" y2="424.44" stroke="#fff" stroke-width="0.8"/>
<line x1="294.17" y1="425.67" x2="293.54" y2="423.43" stroke="#fff" stroke-width="0.8"/>
<line x1="296.08" y1="424.66" x2="295.46" y2="422.41" stroke="#fff" stroke-width="0.8"/>
<line x1="298.00" y1="423.64" x2="297.37" y2="421.39" stroke="#fff" stroke-width="0.8"/>
<line x1="299.92" y1="422.62" x2="299.29" y2="420.38" stroke="#fff" stroke-width="0.8"/>
<path d="M 302.19,422.28 L 306.26,422.27 A 3.04 3.80 -27.9 0 0 302.70,415.56 L 300.41,418.92 Z" fill="#fff" stroke="#111" stroke-width="1.3"/>
<polyline points="306,454.5 323,445.4" fill="none" stroke="#111" stroke-width="0.9" stroke-linejoin="round" />
<polygon points="323.93,447.06 334.83,440.96 332.97,437.64 322.07,443.74" fill="#222" stroke="#111" stroke-width="1.2"/>
<line x1="325.37" y1="445.38" x2="324.70" y2="443.14" stroke="#fff" stroke-width="0.8"/>
<line x1="327.19" y1="444.36" x2="326.51" y2="442.13" stroke="#fff" stroke-width="0.8"/>
<line x1="329.01" y1="443.34" x2="328.33" y2="441.11" stroke="#fff" stroke-width="0.8"/>
<line x1="330.82" y1="442.33" x2="330.15" y2="440.09" stroke="#fff" stroke-width="0.8"/>
<line x1="332.64" y1="441.31" x2="331.96" y2="439.08" stroke="#fff" stroke-width="0.8"/>
<path d="M 334.83,440.96 L 338.90,440.86 A 3.04 3.80 -29.2 0 0 335.19,434.23 L 332.97,437.64 Z" fill="#fff" stroke="#111" stroke-width="1.3"/>
<polygon points="121.3,378.9 124.5,377.3 145.2,388.1 145.2,405.5 143.4,406.0 142.2,403.5 135.3,400.0 121.3,387.6" fill="#262626" stroke="#111" stroke-width="1.3" stroke-linejoin="round" />
<polygon points="122.3,379.6 124.6,378.4 144.6,388.8 144.6,392.5 137,389.0 122.3,381.5" fill="#fff" stroke="#fff" stroke-width="0.5" stroke-linejoin="round" />
<path d="M 129.5,385.5 L 133,387.2 M 136.5,389.8 L 140,391.8 M 124.5,383.0 L 125.5,384.0" stroke="#fff" stroke-width="1.3"/>
<rect x="138.6" y="395.5" width="1.8" height="3" fill="#fff"/><rect x="142.6" y="394.0" width="1.2" height="2.4" fill="#fff"/>
<polygon points="121.3,508.9 124.5,507.3 145.2,518.1 145.2,535.5 143.4,536.0 142.2,533.5 135.3,530.0 121.3,517.6" fill="#262626" stroke="#111" stroke-width="1.3" stroke-linejoin="round" />
<polygon points="122.3,509.6 124.6,508.4 144.6,518.8 144.6,522.5 137,519.0 122.3,511.5" fill="#fff" stroke="#fff" stroke-width="0.5" stroke-linejoin="round" />
<path d="M 129.5,515.5 L 133,517.2 M 136.5,519.8 L 140,521.8 M 124.5,513.0 L 125.5,514.0" stroke="#fff" stroke-width="1.3"/>
<rect x="138.6" y="525.5" width="1.8" height="3" fill="#fff"/><rect x="142.6" y="524.0" width="1.2" height="2.4" fill="#fff"/>
<polygon points="341.5,502.9 343.5,502.0 370.2,516.5 370.6,527.0 367.4,527.6 341.5,515.7" fill="#1a1a1a" stroke="#111" stroke-width="1.3" stroke-linejoin="round" />
<polygon points="342.5,504.0 343.6,503.3 368.5,517.0 368.5,519.0" fill="#fff" stroke="#fff" stroke-width="0.6" stroke-linejoin="round" />
<path d="M 352,513.5 L 358,516.5" stroke="#fff" stroke-width="1.5"/>
<rect x="364" y="521.0" width="2" height="2.6" fill="#fff"/>
<polygon points="341.5,632.5999999999999 343.5,631.7 370.2,646.2 370.6,656.7 367.4,657.3 341.5,645.4000000000001" fill="#1a1a1a" stroke="#111" stroke-width="1.3" stroke-linejoin="round" />
<polygon points="342.5,633.7 343.6,633.0 368.5,646.7 368.5,648.7" fill="#fff" stroke="#fff" stroke-width="0.6" stroke-linejoin="round" />
<path d="M 352,643.2 L 358,646.2" stroke="#fff" stroke-width="1.5"/>
<rect x="364" y="650.7" width="2" height="2.6" fill="#fff"/>
<rect x="196.82" y="357.82" width="11.15" height="10.75" fill="none" stroke="#2e2e2e" stroke-width="1.25"/>
<rect x="212.22" y="357.82" width="11.15" height="10.75" fill="none" stroke="#2e2e2e" stroke-width="1.25"/>
<polyline points="229.4,361.5 240.2,361.5 240.2,378.2" fill="none" stroke="#111" stroke-width="1.2" stroke-linejoin="round" />
<circle cx="240.2" cy="378.2" r="2.7" fill="#111"/>
<rect x="375.12" y="486.82" width="11.35" height="10.95" fill="none" stroke="#2e2e2e" stroke-width="1.25"/>
<rect x="390.62" y="486.82" width="11.35" height="10.95" fill="none" stroke="#2e2e2e" stroke-width="1.25"/>
<rect x="406.12" y="486.82" width="11.35" height="10.95" fill="none" stroke="#2e2e2e" stroke-width="1.25"/>
<polyline points="371.8,493.1 358.2,493.1 358.2,510" fill="none" stroke="#111" stroke-width="1.2" stroke-linejoin="round" />
<circle cx="358.2" cy="510" r="2.7" fill="#111"/>
<rect x="355.82" y="568.42" width="11.35" height="10.95" fill="none" stroke="#2e2e2e" stroke-width="1.25"/>
<rect x="371.32" y="568.42" width="11.35" height="10.95" fill="none" stroke="#2e2e2e" stroke-width="1.25"/>
<rect x="386.82" y="568.42" width="11.35" height="10.95" fill="none" stroke="#2e2e2e" stroke-width="1.25"/>
<polyline points="340.6,573.5 354.5,573.5" fill="none" stroke="#111" stroke-width="1.2" stroke-linejoin="round" />
<circle cx="340.6" cy="573.5" r="2.6" fill="#111"/>
<rect x="188.12" y="617.92" width="11.35" height="10.95" fill="none" stroke="#2e2e2e" stroke-width="1.25"/>
<rect x="203.72" y="617.92" width="11.35" height="10.95" fill="none" stroke="#2e2e2e" stroke-width="1.25"/>
<rect x="219.32" y="617.92" width="11.35" height="10.95" fill="none" stroke="#2e2e2e" stroke-width="1.25"/>
<polyline points="233.8,623 244.6,623 244.6,465.5" fill="none" stroke="#111" stroke-width="1.2" stroke-linejoin="round" />
<circle cx="244.7" cy="465.8" r="2.8" fill="#111"/>
<polyline points="673.4,182.6 673.4,302.4 698.6,302.4 698.6,182.6" fill="none" stroke="#111" stroke-width="1.7" stroke-linejoin="round" />
<polyline points="698.6,190.3 704.4,190.3 704.4,216 715.2,216 715.6,213.4 721.3,220.8 721.3,239.3 716.8,239.3 716.8,245.3 721.3,245.3 721.3,287.5" fill="none" stroke="#111" stroke-width="1.5" stroke-linejoin="round" />
<path d="M 722.2,288.1 L 717.1,291.2 Q 715.7,290.8 715.7,289 Q 715.9,285.2 713.2,285.2 Q 710.6,285.4 710.5,288.5 Q 710,291.8 708.9,292 L 698.6,292" fill="none" stroke="#111" stroke-width="1.5" stroke-linejoin="round" />
<polyline points="699.4,225 699.4,292" fill="none" stroke="#111" stroke-width="2.2" stroke-linejoin="round" />
<polyline points="699.6,225.2 710.8,225.2 710.8,275.5 699.6,275.5" fill="none" stroke="#111" stroke-width="1.4" stroke-linejoin="round" />
<polyline points="699.6,267.4 710.8,267.4" fill="none" stroke="#111" stroke-width="1.2" stroke-linejoin="round" />
<polyline points="699.6,231.7 703.4,231.7 703.4,229.3 706.8,229.3 706.8,263.4 703.4,263.4 703.4,260.5 699.6,260.5" fill="none" stroke="#111" stroke-width="1.4" stroke-linejoin="round" />
<path d="M 721.8,288.4 L 739.4,221.5 Q 740,219.5 743,219.3 L 751.5,219.8 Q 754.5,220.5 754.2,223 L 730.2,353.3" fill="none" stroke="#111" stroke-width="1.6" stroke-linejoin="round" />
<path d="M 737.7,226.4 Q 728,231 725,236 Q 724.5,239.5 727.7,239.3 Q 731,235 736,233" fill="none" stroke="#111" stroke-width="1.3" stroke-linejoin="round" />
<polyline points="712.8,300.7 712.8,294.5" fill="none" stroke="#111" stroke-width="1.8" stroke-linejoin="round" />
<polygon points="710.8,295.5 712.8,292.2 714.8,295.5" fill="#111" stroke="#111" stroke-width="0.8" stroke-linejoin="round" />
<polyline points="721.8,288.4 719,303.4 710.3,304.7 704.6,336.5 713.8,352.4 713.4,358.6 727.1,361.2 731.5,358.6 730.2,353.3" fill="none" stroke="#111" stroke-width="1.5" stroke-linejoin="round" />
<circle cx="713.2" cy="309.6" r="1.8" fill="#fff" stroke="#111" stroke-width="1.0"/>
<circle cx="712.7" cy="332.7" r="2.6" fill="#fff" stroke="#111" stroke-width="1.0"/>
<circle cx="724.4" cy="354.3" r="2.8" fill="#fff" stroke="#111" stroke-width="1.0"/>
<polyline points="702.4,372.2 727.1,363.8 731.5,358.6" fill="none" stroke="#111" stroke-width="1.5" stroke-linejoin="round" />
<polyline points="703.7,364.3 713.6,358.8" fill="none" stroke="#111" stroke-width="1.4" stroke-linejoin="round" />
<polyline points="665.7,429.2 681.6,345.8 705.9,350.6 690.9,430" fill="none" stroke="#111" stroke-width="1.7" stroke-linejoin="round" />
<path d="M 700.2,388.6 L 703.3,390 Q 704.3,391.5 704,394 L 698.8,422.1 Q 697.5,425.5 692.7,426.5" fill="none" stroke="#111" stroke-width="0.9" stroke-linejoin="round" />
<polygon points="759.8,253.2 773.3,253.2 773.3,249.6 785.8,259.8 773.3,270.0 773.3,266.2 759.8,266.2" fill="#fff" stroke="#111" stroke-width="2.0" stroke-linejoin="round" />
<polyline points="803.4,183 803.4,302.6 828.9,302.6 828.9,183" fill="none" stroke="#111" stroke-width="1.7" stroke-linejoin="round" />
<polyline points="828.9,190.3 834.3,190.3 834.3,216.4 845.9,216.4 846.7,213.5 851,220 851,241.1 847,241.1 847,244.7 851,244.7 851,275.3" fill="none" stroke="#111" stroke-width="1.5" stroke-linejoin="round" />
<polyline points="828.9,291.2 838.5,291.2" fill="none" stroke="#111" stroke-width="2.0" stroke-linejoin="round" />
<polyline points="829.5,225.1 840.1,225.1 840.1,275.3 829.5,275.3" fill="none" stroke="#111" stroke-width="1.4" stroke-linejoin="round" />
<polyline points="829.5,267.3 840.1,267.3" fill="none" stroke="#111" stroke-width="1.2" stroke-linejoin="round" />
<polyline points="829.5,229.5 836.5,229.5 836.5,262.9 829.5,262.9" fill="none" stroke="#111" stroke-width="1.4" stroke-linejoin="round" />
<path d="M 851,275.3 L 869.2,199 Q 870,196.5 873,196.6 L 881,197.2 Q 884.5,198 884.5,201 L 860.5,331.9" fill="none" stroke="#111" stroke-width="1.6" stroke-linejoin="round" />
<path d="M 868.5,204 Q 861,203 857.5,206 Q 856,210 858.5,210.5 Q 861,207.5 867.5,208" fill="none" stroke="#111" stroke-width="1.2" stroke-linejoin="round" />
<ellipse cx="876" cy="204.8" rx="5.5" ry="2.8" transform="rotate(-20 876 204.8)" fill="none" stroke="#111" stroke-width="0.9" stroke-dasharray="2,1.5"/>
<polyline points="870.6,193.2 873.5,200" fill="none" stroke="#111" stroke-width="1.2" stroke-linejoin="round" />
<polyline points="855.5,216.4 861.9,216.4" fill="none" stroke="#111" stroke-width="1.2" stroke-linejoin="round" />
<polygon points="853.2,216.4 856.5,214.3 856.5,218.5" fill="#111" stroke="#111" stroke-width="0.6" stroke-linejoin="round" />
<polyline points="851,275.3 840.1,282.5 838,291.2 834.3,313 844.5,331.2 843.8,335.6 856.8,340.7 861.2,336.3 860.5,331.9" fill="none" stroke="#111" stroke-width="1.5" stroke-linejoin="round" />
<path d="M 850,277 Q 854,283 851,288 Q 847,291.5 843,289" fill="none" stroke="#111" stroke-width="0.9" stroke-linejoin="round" stroke-dasharray="2,1.5"/>
<circle cx="843" cy="287.6" r="2.2" fill="#fff" stroke="#111" stroke-width="1.0"/>
<circle cx="842.3" cy="310.9" r="2.8" fill="#fff" stroke="#111" stroke-width="1.0"/>
<circle cx="853.9" cy="332.7" r="2.8" fill="#fff" stroke="#111" stroke-width="1.0"/>
<polyline points="832.1,350.1 857.6,340.7 861.2,336.3" fill="none" stroke="#111" stroke-width="1.5" stroke-linejoin="round" />
<polyline points="832.9,342.1 844.5,336.3" fill="none" stroke="#111" stroke-width="1.4" stroke-linejoin="round" />
<polyline points="794.4,416.9 811.5,324.7 835.3,328.3 819.1,417.7" fill="none" stroke="#111" stroke-width="1.7" stroke-linejoin="round" />
<path d="M 829.2,366.8 L 832.5,368.5 Q 833.8,370 833.3,372 L 826.3,404 Q 825,405.5 822.7,405.3" fill="none" stroke="#111" stroke-width="0.9" stroke-linejoin="round" />
<polygon points="890.8,248.79999999999998 904.3,248.79999999999998 904.3,245.2 916.8,255.39999999999998 904.3,265.59999999999997 904.3,261.8 890.8,261.8" fill="#fff" stroke="#111" stroke-width="2.0" stroke-linejoin="round" />
<polyline points="1005.2,182.3 1005.2,302 1031,302 1031,182.3" fill="none" stroke="#111" stroke-width="1.7" stroke-linejoin="round" />
<polyline points="1037.1,215.6 1037.1,160.8 1051,160.8" fill="none" stroke="#111" stroke-width="1.2" stroke-linejoin="round" />
<circle cx="1037.1" cy="189.5" r="2.5" fill="#111"/>
<rect x="1057.33" y="155.12" width="11.35" height="10.75" fill="none" stroke="#2e2e2e" stroke-width="1.25"/>
<rect x="1072.83" y="155.12" width="11.35" height="10.75" fill="none" stroke="#2e2e2e" stroke-width="1.25"/>
<rect x="1088.33" y="155.12" width="11.35" height="10.75" fill="none" stroke="#2e2e2e" stroke-width="1.25"/>
<rect x="1103.83" y="155.12" width="11.35" height="10.75" fill="none" stroke="#2e2e2e" stroke-width="1.25"/>
<rect x="1119.33" y="155.12" width="11.35" height="10.75" fill="none" stroke="#2e2e2e" stroke-width="1.25"/>
<rect x="1134.83" y="155.12" width="11.35" height="10.75" fill="none" stroke="#2e2e2e" stroke-width="1.25"/>
<rect x="1057.33" y="173.72" width="11.35" height="10.75" fill="none" stroke="#2e2e2e" stroke-width="1.25"/>
<rect x="1071.62" y="173.72" width="11.35" height="10.75" fill="none" stroke="#2e2e2e" stroke-width="1.25"/>
<rect x="1085.92" y="173.72" width="11.35" height="10.75" fill="none" stroke="#2e2e2e" stroke-width="1.25"/>
<rect x="1100.23" y="173.72" width="11.35" height="10.75" fill="none" stroke="#2e2e2e" stroke-width="1.25"/>
<polyline points="1037.1,217 1042,216.5 1047,213.5 1054,211" fill="none" stroke="#111" stroke-width="1.3" stroke-linejoin="round" />
<polyline points="1031,291.1 1041.5,291.1" fill="none" stroke="#111" stroke-width="1.5" stroke-linejoin="round" />
<polyline points="1032,224.4 1043.6,224.4 1043.6,275.2 1032,275.2" fill="none" stroke="#111" stroke-width="1.4" stroke-linejoin="round" />
<polyline points="1032,267 1043.6,267" fill="none" stroke="#111" stroke-width="1.2" stroke-linejoin="round" />
<polyline points="1032,229.5 1039,229.5 1039,262.5 1032,262.5" fill="none" stroke="#111" stroke-width="1.4" stroke-linejoin="round" />
<polyline points="1037.5,217 1048,217 1050.2,220" fill="none" stroke="#111" stroke-width="1.3" stroke-linejoin="round" />
<path d="M 1050.2,281 L 1056,194.5 Q 1056.5,192.4 1059,192.4 L 1067,192.4 Q 1069.8,192.6 1069.8,195.5 L 1069.8,327.4" fill="none" stroke="#111" stroke-width="1.6" stroke-linejoin="round" />
<path d="M 1055,201.5 Q 1046,206 1044.4,211 L 1045,214 M 1054.5,207 Q 1049,210 1048,214" fill="none" stroke="#111" stroke-width="1.1" stroke-linejoin="round" />
<rect x="1049.4" y="240.3" width="2.3" height="4.4" fill="none" stroke="#111" stroke-width="0.9"/>
<polyline points="1050.2,281 1041.5,283.1 1041.5,315.1 1054.5,328.9 1054.5,334.7 1070.5,331.8 1069.8,327.4" fill="none" stroke="#111" stroke-width="1.5" stroke-linejoin="round" />
<circle cx="1045.1" cy="287.5" r="2.2" fill="#fff" stroke="#111" stroke-width="1.0"/>
<circle cx="1049" cy="310.3" r="2.8" fill="#fff" stroke="#111" stroke-width="1.0"/>
<circle cx="1064.4" cy="329.6" r="2.8" fill="#fff" stroke="#111" stroke-width="1.0"/>
<polyline points="1046.5,350.6 1071.2,333.9 1070.5,331.8" fill="none" stroke="#111" stroke-width="1.5" stroke-linejoin="round" />
<polyline points="1046.5,341.2 1054.5,334.7" fill="none" stroke="#111" stroke-width="1.4" stroke-linejoin="round" />
<polyline points="1020.8,423.2 1020.8,329.6 1045.8,329.6 1045.8,419.6" fill="none" stroke="#111" stroke-width="1.7" stroke-linejoin="round" />
<path d="M 1046.5,368.1 L 1049.5,369.5 Q 1050.9,370.5 1050.9,373 L 1050.9,401 Q 1050.5,404.5 1047.3,405.8" fill="none" stroke="#111" stroke-width="0.9" stroke-linejoin="round" />
<rect x="932.83" y="264.93" width="11.35" height="10.75" fill="none" stroke="#2e2e2e" stroke-width="1.25"/>
<rect x="948.03" y="264.93" width="11.35" height="10.75" fill="none" stroke="#2e2e2e" stroke-width="1.25"/>
<rect x="963.23" y="264.93" width="11.35" height="10.75" fill="none" stroke="#2e2e2e" stroke-width="1.25"/>
<rect x="978.43" y="264.93" width="11.35" height="10.75" fill="none" stroke="#2e2e2e" stroke-width="1.25"/>
<polyline points="993.2,269.9 1005.2,269.9" fill="none" stroke="#111" stroke-width="1.2" stroke-linejoin="round" />
<circle cx="1005" cy="270.1" r="2.5" fill="#111"/>
<rect x="1083.22" y="249.12" width="11.35" height="10.75" fill="none" stroke="#2e2e2e" stroke-width="1.25"/>
<rect x="1098.42" y="249.12" width="11.35" height="10.75" fill="none" stroke="#2e2e2e" stroke-width="1.25"/>
<rect x="1113.62" y="249.12" width="11.35" height="10.75" fill="none" stroke="#2e2e2e" stroke-width="1.25"/>
<polyline points="1070,254.8 1080.6,254.8" fill="none" stroke="#111" stroke-width="1.2" stroke-linejoin="round" />
<circle cx="1069.8" cy="254.8" r="2.5" fill="#111"/>
<rect x="962.12" y="375.23" width="11.35" height="10.75" fill="none" stroke="#2e2e2e" stroke-width="1.25"/>
<rect x="977.33" y="375.23" width="11.35" height="10.75" fill="none" stroke="#2e2e2e" stroke-width="1.25"/>
<rect x="992.52" y="375.23" width="11.35" height="10.75" fill="none" stroke="#2e2e2e" stroke-width="1.25"/>
<polyline points="1008.8,381.1 1020.4,381.1" fill="none" stroke="#111" stroke-width="1.2" stroke-linejoin="round" />
<circle cx="1020.4" cy="381.1" r="2.5" fill="#111"/>
<path d="M 790.2,516.5 A 36,36 0 0 1 823.5,537.5" fill="none" stroke="#111" stroke-width="1.5" stroke-linejoin="round" />
<path d="M 823.5,571 A 36,36 0 0 1 790.2,591.8" fill="none" stroke="#111" stroke-width="1.5" stroke-linejoin="round" />
<path d="M 748,499 Q 748,494.2 753,494.2 L 785.2,494.2 Q 790.2,494.2 790.2,499 L 790.2,525 Q 790,529.8 785,529.8 L 761,529.8 Q 754.2,530.2 754.2,537 L 754.2,572 Q 754.2,578.2 761,578.2 L 785,578.2 Q 790.2,578.5 790.2,583.5 L 790.2,608.8 Q 790.2,613.8 785.2,613.8 L 753,613.8 Q 748,613.8 748,608.8 Z" fill="none" stroke="#111" stroke-width="1.6" stroke-linejoin="round" />
<path d="M 785,529.8 Q 790,530 793,533 L 797,538.5 Q 799,540 803.7,539.6 L 826.7,536 M 785,578.2 Q 790,578 793,575 L 797,569.5 Q 799,568.5 803.7,568.8 L 826.7,572" fill="none" stroke="#111" stroke-width="1.5" stroke-linejoin="round" />
<polyline points="803.7,539.6 803.7,568.8" fill="none" stroke="#111" stroke-width="1.4" stroke-linejoin="round" />
<polygon points="826.7,536 975.1,536 975.1,572 826.7,572" fill="none" stroke="#111" stroke-width="1.6" stroke-linejoin="round" />
<polyline points="828.8,536 828.8,572" fill="none" stroke="#111" stroke-width="1.0" stroke-linejoin="round" />
<path d="M 975.1,538.5 L 978,538.5 Q 981.6,540 981.6,553 Q 981.6,566 978,567.8 L 975.1,567.8" fill="none" stroke="#111" stroke-width="1.4" stroke-linejoin="round" />
<polyline points="976.6,538.5 976.6,567.8" fill="none" stroke="#111" stroke-width="1.6" stroke-linejoin="round" />
<path d="M 893.5,536 Q 896.7,535 896.7,531 L 896.7,512 Q 896.7,507.2 901.5,507.2 L 939,507.2 Q 943.8,507.2 943.8,512 L 943.8,536" fill="none" stroke="#111" stroke-width="1.6" stroke-linejoin="round" />
<path d="M 893.5,572 Q 896.7,573 896.7,577 L 896.7,595.5 Q 896.7,600.2 901.5,600.2 L 939,600.2 Q 943.8,600.2 943.8,595.5 L 943.8,572" fill="none" stroke="#111" stroke-width="1.6" stroke-linejoin="round" />
<circle cx="769.9" cy="506.6" r="8.0" fill="#fff" stroke="#111" stroke-width="1.5"/>
<path d="M 769.9,502.20000000000005 Q 771.0,505.5 774.3,506.6 Q 771.0,507.70000000000005 769.9,511.0 Q 768.8,507.70000000000005 765.5,506.6 Q 768.8,505.5 769.9,502.20000000000005 Z" fill="none" stroke="#111" stroke-width="1.1"/>
<circle cx="769.9" cy="601.2" r="8.0" fill="#fff" stroke="#111" stroke-width="1.5"/>
<path d="M 769.9,596.8000000000001 Q 771.0,600.1 774.3,601.2 Q 771.0,602.3000000000001 769.9,605.6 Q 768.8,602.3000000000001 765.5,601.2 Q 768.8,600.1 769.9,596.8000000000001 Z" fill="none" stroke="#111" stroke-width="1.1"/>
<circle cx="913.9" cy="520.8" r="8.2" fill="#fff" stroke="#111" stroke-width="1.5"/>
<path d="M 913.9,516.29 Q 915.0275,519.6724999999999 918.41,520.8 Q 915.0275,521.9275 913.9,525.31 Q 912.7724999999999,521.9275 909.39,520.8 Q 912.7724999999999,519.6724999999999 913.9,516.29 Z" fill="none" stroke="#111" stroke-width="1.1"/>
<path d="M 906,527 Q 914,532 922,527" fill="none" stroke="#111" stroke-width="0.8"/>
<circle cx="913.5" cy="587.6" r="8.0" fill="#fff" stroke="#111" stroke-width="1.5"/>
<path d="M 913.5,583.2 Q 914.6,586.5 917.9,587.6 Q 914.6,588.7 913.5,592.0 Q 912.4,588.7 909.1,587.6 Q 912.4,586.5 913.5,583.2 Z" fill="none" stroke="#111" stroke-width="1.1"/>
<circle cx="933.3" cy="587.0" r="8.0" fill="#fff" stroke="#111" stroke-width="1.5"/>
<path d="M 933.3,582.6 Q 934.4,585.9 937.6999999999999,587.0 Q 934.4,588.1 933.3,591.4 Q 932.1999999999999,588.1 928.9,587.0 Q 932.1999999999999,585.9 933.3,582.6 Z" fill="none" stroke="#111" stroke-width="1.1"/>
<path d="M 906,580 Q 914,575 922,580 M 927,579 Q 933,576 939,579" fill="none" stroke="#111" stroke-width="0.8"/>
<circle cx="883.2" cy="553.6" r="9.2" fill="#fff" stroke="#111" stroke-width="1.5"/>
<path d="M 883.2,548.5400000000001 Q 884.465,552.335 888.26,553.6 Q 884.465,554.865 883.2,558.66 Q 881.9350000000001,554.865 878.1400000000001,553.6 Q 881.9350000000001,552.335 883.2,548.5400000000001 Z" fill="none" stroke="#111" stroke-width="1.1"/>
<path d="M 883.2,545 Q 884.5,552.3 891.8,553.6 Q 884.5,554.9 883.2,562.2 Q 881.9,554.9 874.6,553.6 Q 881.9,552.3 883.2,545 Z" fill="none" stroke="#111" stroke-width="1.2"/>
<path d="M 902,545.8 L 914.5,545.8 L 917.6,550 L 917.6,557.3 L 914.5,561.5 L 902,561.5 L 898.8,557.3 L 898.8,550 Z" fill="none" stroke="#111" stroke-width="1.4" stroke-linejoin="round" />
<ellipse cx="941.6" cy="553.7" rx="19.8" ry="12" fill="none" stroke="#111" stroke-width="1.1"/>
<ellipse cx="941.6" cy="553.9" rx="13" ry="8.6" fill="none" stroke="#111" stroke-width="0.8"/>
<ellipse cx="941.6" cy="553.9" rx="10.5" ry="8.6" fill="none" stroke="#111" stroke-width="0.8"/>
<ellipse cx="941.6" cy="553.9" rx="8.5" ry="8.6" fill="none" stroke="#111" stroke-width="0.8"/>
<circle cx="941.7" cy="554.2" r="7.4" fill="#fff" stroke="#111" stroke-width="1.5"/>
<path d="M 941.7,550.13 Q 942.7175000000001,553.1825 945.7700000000001,554.2 Q 942.7175000000001,555.2175000000001 941.7,558.2700000000001 Q 940.6825,555.2175000000001 937.63,554.2 Q 940.6825,553.1825 941.7,550.13 Z" fill="none" stroke="#111" stroke-width="1.1"/>
<rect x="950.12" y="493.62" width="10.75" height="11.05" fill="none" stroke="#2e2e2e" stroke-width="1.25"/>
<rect x="966.48" y="493.62" width="10.75" height="11.05" fill="none" stroke="#2e2e2e" stroke-width="1.25"/>
<rect x="982.83" y="493.62" width="10.75" height="11.05" fill="none" stroke="#2e2e2e" stroke-width="1.25"/>
<rect x="999.17" y="493.62" width="10.75" height="11.05" fill="none" stroke="#2e2e2e" stroke-width="1.25"/>
<rect x="1015.52" y="493.62" width="10.75" height="11.05" fill="none" stroke="#2e2e2e" stroke-width="1.25"/>
<rect x="1031.88" y="493.62" width="10.75" height="11.05" fill="none" stroke="#2e2e2e" stroke-width="1.25"/>
<rect x="1048.22" y="493.62" width="10.75" height="11.05" fill="none" stroke="#2e2e2e" stroke-width="1.25"/>
<rect x="1064.58" y="493.62" width="10.75" height="11.05" fill="none" stroke="#2e2e2e" stroke-width="1.25"/>
<rect x="1080.92" y="493.62" width="10.75" height="11.05" fill="none" stroke="#2e2e2e" stroke-width="1.25"/>
<rect x="1078.92" y="493.62" width="11.05" height="11.05" fill="none" stroke="#2e2e2e" stroke-width="1.25"/>
<rect x="1091.22" y="493.62" width="11.45" height="11.05" fill="none" stroke="#2e2e2e" stroke-width="1.25"/>
<polyline points="946.6,497.3 932.2,497.3 932.2,507.4" fill="none" stroke="#111" stroke-width="1.2" stroke-linejoin="round" />
<circle cx="932.2" cy="507.4" r="2.5" fill="#111"/>
<rect x="992.83" y="520.02" width="11.35" height="10.75" fill="none" stroke="#2e2e2e" stroke-width="1.25"/>
<rect x="1009.20" y="520.02" width="11.35" height="10.75" fill="none" stroke="#2e2e2e" stroke-width="1.25"/>
<rect x="1025.57" y="520.02" width="11.35" height="10.75" fill="none" stroke="#2e2e2e" stroke-width="1.25"/>
<rect x="1041.93" y="520.02" width="11.35" height="10.75" fill="none" stroke="#2e2e2e" stroke-width="1.25"/>
<rect x="1058.31" y="520.02" width="11.35" height="10.75" fill="none" stroke="#2e2e2e" stroke-width="1.25"/>
<rect x="1074.67" y="520.02" width="11.35" height="10.75" fill="none" stroke="#2e2e2e" stroke-width="1.25"/>
<polyline points="988.6,525.5 941.7,525.5 941.7,544" fill="none" stroke="#111" stroke-width="1.2" stroke-linejoin="round" />
<polygon points="939.2,540.5 941.7,547 944.2,540.5" fill="#111" stroke="#111" stroke-width="0.6" stroke-linejoin="round" />
<rect x="980.73" y="579.92" width="11.25" height="10.75" fill="none" stroke="#2e2e2e" stroke-width="1.25"/>
<rect x="996.12" y="579.92" width="11.25" height="10.75" fill="none" stroke="#2e2e2e" stroke-width="1.25"/>
<rect x="1011.52" y="579.92" width="11.25" height="10.75" fill="none" stroke="#2e2e2e" stroke-width="1.25"/>
<polyline points="963.2,572 963.2,585.6 977.8,585.6" fill="none" stroke="#111" stroke-width="1.2" stroke-linejoin="round" />
<circle cx="963.2" cy="572" r="2.5" fill="#111"/>
<rect x="948.23" y="608.83" width="11.05" height="10.95" fill="none" stroke="#2e2e2e" stroke-width="1.25"/>
<rect x="964.77" y="608.83" width="11.05" height="10.95" fill="none" stroke="#2e2e2e" stroke-width="1.25"/>
<rect x="981.33" y="608.83" width="11.05" height="10.95" fill="none" stroke="#2e2e2e" stroke-width="1.25"/>
<rect x="997.88" y="608.83" width="11.05" height="10.95" fill="none" stroke="#2e2e2e" stroke-width="1.25"/>
<rect x="1014.43" y="608.83" width="11.05" height="10.95" fill="none" stroke="#2e2e2e" stroke-width="1.25"/>
<rect x="1030.97" y="608.83" width="11.05" height="10.95" fill="none" stroke="#2e2e2e" stroke-width="1.25"/>
<polyline points="933.5,600 933.5,616.4 943.1,616.4" fill="none" stroke="#111" stroke-width="1.2" stroke-linejoin="round" />
<polygon points="931,601 933.5,595.5 936,601" fill="#111" stroke="#111" stroke-width="0.6" stroke-linejoin="round" />
<rect x="762.23" y="622.83" width="11.05" height="10.75" fill="none" stroke="#2e2e2e" stroke-width="1.25"/>
<rect x="778.68" y="622.83" width="11.05" height="10.75" fill="none" stroke="#2e2e2e" stroke-width="1.25"/>
<rect x="795.12" y="622.83" width="11.05" height="10.75" fill="none" stroke="#2e2e2e" stroke-width="1.25"/>
<rect x="811.58" y="622.83" width="11.05" height="10.75" fill="none" stroke="#2e2e2e" stroke-width="1.25"/>
<rect x="828.02" y="622.83" width="11.05" height="10.75" fill="none" stroke="#2e2e2e" stroke-width="1.25"/>
<rect x="844.48" y="622.83" width="11.05" height="10.75" fill="none" stroke="#2e2e2e" stroke-width="1.25"/>
<polyline points="860.2,626.3 883.2,626.3 883.2,566" fill="none" stroke="#111" stroke-width="1.2" stroke-linejoin="round" />
<polygon points="880.7,567.5 883.2,562 885.7,567.5" fill="#111" stroke="#111" stroke-width="0.6" stroke-linejoin="round" />
<polyline points="733,779.4 1033.5,779.4" fill="none" stroke="#111" stroke-width="1.3" stroke-linejoin="round" />
<polyline points="733,788.5 1033.5,788.5" fill="none" stroke="#111" stroke-width="1.3" stroke-linejoin="round" />
<polyline points="734.4,793.2 806.4,793.2 806.4,947.9 737,947.9" fill="none" stroke="#111" stroke-width="1.1" stroke-linejoin="round" stroke-dasharray="4.2,2.6"/>
<polyline points="1033,793.2 961.6,793.2 961.6,947.9 1033,947.9" fill="none" stroke="#111" stroke-width="1.1" stroke-linejoin="round" stroke-dasharray="4.2,2.6"/>
<polyline points="812.6,788.5 812.6,953.6" fill="none" stroke="#111" stroke-width="1.5" stroke-linejoin="round" />
<polyline points="955.5,788.5 955.5,953.6" fill="none" stroke="#111" stroke-width="1.5" stroke-linejoin="round" />
<polyline points="812.6,832.2 955.5,832.2" fill="none" stroke="#111" stroke-width="1.3" stroke-linejoin="round" />
<rect x="818.5" y="838.5" width="131" height="109.4" fill="none" stroke="#111" stroke-width="1.1" stroke-dasharray="4.2,2.6"/>
<polyline points="733,953.6 1033.5,953.6" fill="none" stroke="#111" stroke-width="2.0" stroke-linejoin="round" />
<polyline points="733,980 1033.5,980" fill="none" stroke="#111" stroke-width="2.0" stroke-linejoin="round" />
<polyline points="812.6,953.6 812.6,980" fill="none" stroke="#111" stroke-width="1.1" stroke-linejoin="round" stroke-dasharray="3.5,2.5"/>
<polyline points="955.5,953.6 955.5,980" fill="none" stroke="#111" stroke-width="1.1" stroke-linejoin="round" stroke-dasharray="3.5,2.5"/>
<polygon points="812.6,981.2 821.2,989.9 815.5,989.9 815.5,998.3 809.7,998.3 809.7,989.9 804.0,989.9" fill="#fff" stroke="#111" stroke-width="1.9" stroke-linejoin="round" />
<polygon points="955.5,981.2 964.1,989.9 958.4,989.9 958.4,998.3 952.6,998.3 952.6,989.9 946.9,989.9" fill="#fff" stroke="#111" stroke-width="1.9" stroke-linejoin="round" />
<polyline points="812.6,998.5 812.6,1005.3 955.5,1005.3 955.5,998.5" fill="none" stroke="#111" stroke-width="1.2" stroke-linejoin="round" />
<polyline points="884,1007.2 884,1012" fill="none" stroke="#111" stroke-width="1.0" stroke-linejoin="round" />
<rect x="814.12" y="1017.73" width="11.05" height="11.05" fill="none" stroke="#2e2e2e" stroke-width="1.25"/>
<rect x="830.08" y="1017.73" width="11.05" height="11.05" fill="none" stroke="#2e2e2e" stroke-width="1.25"/>
<rect x="846.02" y="1017.73" width="11.05" height="11.05" fill="none" stroke="#2e2e2e" stroke-width="1.25"/>
<rect x="861.98" y="1017.73" width="11.05" height="11.05" fill="none" stroke="#2e2e2e" stroke-width="1.25"/>
<rect x="877.92" y="1017.73" width="11.05" height="11.05" fill="none" stroke="#2e2e2e" stroke-width="1.25"/>
<rect x="893.88" y="1017.73" width="11.05" height="11.05" fill="none" stroke="#2e2e2e" stroke-width="1.25"/>
<rect x="909.83" y="1017.73" width="11.05" height="11.05" fill="none" stroke="#2e2e2e" stroke-width="1.25"/>
<rect x="925.77" y="1017.73" width="11.05" height="11.05" fill="none" stroke="#2e2e2e" stroke-width="1.25"/>
<rect x="941.73" y="1017.73" width="11.05" height="11.05" fill="none" stroke="#2e2e2e" stroke-width="1.25"/>
<polyline points="801.6,852.4 812.6,852.4" fill="none" stroke="#111" stroke-width="1.0" stroke-linejoin="round" stroke-dasharray="3,2.5"/>
<polyline points="942.9,852.4 955.5,852.4" fill="none" stroke="#111" stroke-width="1.0" stroke-linejoin="round" stroke-dasharray="3,2.5"/>
<polyline points="816.9,852.4 830.8,852.4" fill="none" stroke="#111" stroke-width="1.0" stroke-linejoin="round" />
<polyline points="955.5,852.4 972,852.4" fill="none" stroke="#111" stroke-width="1.0" stroke-linejoin="round" />
<polyline points="801.6,929.3 812.6,929.3" fill="none" stroke="#111" stroke-width="1.0" stroke-linejoin="round" stroke-dasharray="3,2.5"/>
<polyline points="942.9,929.3 955.5,929.3" fill="none" stroke="#111" stroke-width="1.0" stroke-linejoin="round" stroke-dasharray="3,2.5"/>
<polyline points="816.9,929.3 830.8,929.3" fill="none" stroke="#111" stroke-width="1.0" stroke-linejoin="round" />
<polyline points="955.5,929.3 972,929.3" fill="none" stroke="#111" stroke-width="1.0" stroke-linejoin="round" />
<path d="M 830.8,852.4 L 833.3,850.0 L 845.4,850.0 L 845.4,854.8 L 833.3,854.8 Z" fill="#fff" stroke="#111" stroke-width="1.0"/>
<line x1="834.3" y1="850.0" x2="835.1999999999999" y2="854.8" stroke="#111" stroke-width="0.6"/>
<line x1="836.1999999999999" y1="850.0" x2="837.0999999999999" y2="854.8" stroke="#111" stroke-width="0.6"/>
<line x1="838.0999999999999" y1="850.0" x2="838.9999999999999" y2="854.8" stroke="#111" stroke-width="0.6"/>
<line x1="840.0" y1="850.0" x2="840.9" y2="854.8" stroke="#111" stroke-width="0.6"/>
<line x1="841.9" y1="850.0" x2="842.8" y2="854.8" stroke="#111" stroke-width="0.6"/>
<line x1="843.8" y1="850.0" x2="844.6999999999999" y2="854.8" stroke="#111" stroke-width="0.6"/>
<path d="M 845.4,849.0 Q 848.5999999999999,849.0 848.5999999999999,852.4 Q 848.5999999999999,855.8 845.4,855.8 Z" fill="#fff" stroke="#111" stroke-width="1.2"/>
<rect x="853.4" y="847.9" width="3.9" height="9.2" rx="1.8" fill="#fff" stroke="#111" stroke-width="1.4"/>
<path d="M 972,852.4 L 974.5,850.0 L 986.6,850.0 L 986.6,854.8 L 974.5,854.8 Z" fill="#fff" stroke="#111" stroke-width="1.0"/>
<line x1="975.5" y1="850.0" x2="976.4" y2="854.8" stroke="#111" stroke-width="0.6"/>
<line x1="977.4" y1="850.0" x2="978.3" y2="854.8" stroke="#111" stroke-width="0.6"/>
<line x1="979.3" y1="850.0" x2="980.1999999999999" y2="854.8" stroke="#111" stroke-width="0.6"/>
<line x1="981.2" y1="850.0" x2="982.1" y2="854.8" stroke="#111" stroke-width="0.6"/>
<line x1="983.1" y1="850.0" x2="984.0" y2="854.8" stroke="#111" stroke-width="0.6"/>
<line x1="985.0" y1="850.0" x2="985.9" y2="854.8" stroke="#111" stroke-width="0.6"/>
<path d="M 986.6,849.0 Q 989.8,849.0 989.8,852.4 Q 989.8,855.8 986.6,855.8 Z" fill="#fff" stroke="#111" stroke-width="1.2"/>
<rect x="994.8" y="847.9" width="3.9" height="9.2" rx="1.8" fill="#fff" stroke="#111" stroke-width="1.4"/>
<path d="M 830.8,929.3 L 833.3,926.9 L 845.4,926.9 L 845.4,931.6999999999999 L 833.3,931.6999999999999 Z" fill="#fff" stroke="#111" stroke-width="1.0"/>
<line x1="834.3" y1="926.9" x2="835.1999999999999" y2="931.6999999999999" stroke="#111" stroke-width="0.6"/>
<line x1="836.1999999999999" y1="926.9" x2="837.0999999999999" y2="931.6999999999999" stroke="#111" stroke-width="0.6"/>
<line x1="838.0999999999999" y1="926.9" x2="838.9999999999999" y2="931.6999999999999" stroke="#111" stroke-width="0.6"/>
<line x1="840.0" y1="926.9" x2="840.9" y2="931.6999999999999" stroke="#111" stroke-width="0.6"/>
<line x1="841.9" y1="926.9" x2="842.8" y2="931.6999999999999" stroke="#111" stroke-width="0.6"/>
<line x1="843.8" y1="926.9" x2="844.6999999999999" y2="931.6999999999999" stroke="#111" stroke-width="0.6"/>
<path d="M 845.4,925.9 Q 848.5999999999999,925.9 848.5999999999999,929.3 Q 848.5999999999999,932.6999999999999 845.4,932.6999999999999 Z" fill="#fff" stroke="#111" stroke-width="1.2"/>
<rect x="853.4" y="924.8" width="3.9" height="9.2" rx="1.8" fill="#fff" stroke="#111" stroke-width="1.4"/>
<path d="M 972,929.3 L 974.5,926.9 L 986.6,926.9 L 986.6,931.6999999999999 L 974.5,931.6999999999999 Z" fill="#fff" stroke="#111" stroke-width="1.0"/>
<line x1="975.5" y1="926.9" x2="976.4" y2="931.6999999999999" stroke="#111" stroke-width="0.6"/>
<line x1="977.4" y1="926.9" x2="978.3" y2="931.6999999999999" stroke="#111" stroke-width="0.6"/>
<line x1="979.3" y1="926.9" x2="980.1999999999999" y2="931.6999999999999" stroke="#111" stroke-width="0.6"/>
<line x1="981.2" y1="926.9" x2="982.1" y2="931.6999999999999" stroke="#111" stroke-width="0.6"/>
<line x1="983.1" y1="926.9" x2="984.0" y2="931.6999999999999" stroke="#111" stroke-width="0.6"/>
<line x1="985.0" y1="926.9" x2="985.9" y2="931.6999999999999" stroke="#111" stroke-width="0.6"/>
<path d="M 986.6,925.9 Q 989.8,925.9 989.8,929.3 Q 989.8,932.6999999999999 986.6,932.6999999999999 Z" fill="#fff" stroke="#111" stroke-width="1.2"/>
<rect x="994.8" y="924.8" width="3.9" height="9.2" rx="1.8" fill="#fff" stroke="#111" stroke-width="1.4"/>
<rect x="854.02" y="811.92" width="10.95" height="11.05" fill="none" stroke="#2e2e2e" stroke-width="1.25"/>
<rect x="868.83" y="811.92" width="11.15" height="11.05" fill="none" stroke="#2e2e2e" stroke-width="1.25"/>
<rect x="883.12" y="811.92" width="10.95" height="11.05" fill="none" stroke="#2e2e2e" stroke-width="1.25"/>
<rect x="899.73" y="811.92" width="11.15" height="11.05" fill="none" stroke="#2e2e2e" stroke-width="1.25"/>
<rect x="913.62" y="811.92" width="10.45" height="11.05" fill="none" stroke="#2e2e2e" stroke-width="1.25"/>
<rect x="925.33" y="811.92" width="10.75" height="11.05" fill="none" stroke="#2e2e2e" stroke-width="1.25"/>
<polyline points="848.7,817.2 834.1,817.2 834.1,832.2" fill="none" stroke="#111" stroke-width="1.2" stroke-linejoin="round" />
<circle cx="834.1" cy="832.2" r="2.5" fill="#111"/>
<polyline points="859.6,851.7 871.3,851.7" fill="none" stroke="#111" stroke-width="1.2" stroke-linejoin="round" />
<circle cx="859.6" cy="851.7" r="2.5" fill="#111"/>
<rect x="871.92" y="847.02" width="11.05" height="10.75" fill="none" stroke="#2e2e2e" stroke-width="1.25"/>
<rect x="887.97" y="847.02" width="11.05" height="10.75" fill="none" stroke="#2e2e2e" stroke-width="1.25"/>
<rect x="904.02" y="847.02" width="11.05" height="10.75" fill="none" stroke="#2e2e2e" stroke-width="1.25"/>
<rect x="920.07" y="847.02" width="11.05" height="10.75" fill="none" stroke="#2e2e2e" stroke-width="1.25"/>
<rect x="873.23" y="865.92" width="11.05" height="11.05" fill="none" stroke="#2e2e2e" stroke-width="1.25"/>
<rect x="888.12" y="865.92" width="11.05" height="11.05" fill="none" stroke="#2e2e2e" stroke-width="1.25"/>
<rect x="901.73" y="865.92" width="11.05" height="11.05" fill="none" stroke="#2e2e2e" stroke-width="1.25"/>
<rect x="915.62" y="865.92" width="11.35" height="11.05" fill="none" stroke="#2e2e2e" stroke-width="1.25"/>
<polyline points="843.4,856.8 843.4,897.9 851.4,897.9" fill="none" stroke="#111" stroke-width="1.2" stroke-linejoin="round" />
<circle cx="843.4" cy="856.8" r="2.5" fill="#111"/>
<rect x="852.62" y="890.83" width="10.95" height="11.05" fill="none" stroke="#2e2e2e" stroke-width="1.25"/>
<rect x="868.58" y="890.83" width="10.95" height="11.05" fill="none" stroke="#2e2e2e" stroke-width="1.25"/>
<rect x="884.52" y="890.83" width="10.95" height="11.05" fill="none" stroke="#2e2e2e" stroke-width="1.25"/>
<rect x="900.48" y="890.83" width="10.95" height="11.05" fill="none" stroke="#2e2e2e" stroke-width="1.25"/>
<rect x="916.42" y="890.83" width="10.95" height="11.05" fill="none" stroke="#2e2e2e" stroke-width="1.25"/>
<rect x="932.38" y="890.83" width="10.95" height="11.05" fill="none" stroke="#2e2e2e" stroke-width="1.25"/>
<rect x="847.12" y="910.02" width="10.95" height="10.95" fill="none" stroke="#2e2e2e" stroke-width="1.25"/>
<rect x="862.33" y="910.02" width="10.95" height="10.95" fill="none" stroke="#2e2e2e" stroke-width="1.25"/>
<rect x="876.83" y="910.02" width="11.05" height="10.95" fill="none" stroke="#2e2e2e" stroke-width="1.25"/>
<rect x="889.12" y="910.02" width="10.05" height="10.95" fill="none" stroke="#2e2e2e" stroke-width="1.25"/>
<rect x="902.83" y="910.02" width="10.95" height="10.95" fill="none" stroke="#2e2e2e" stroke-width="1.25"/>
<rect x="915.02" y="910.02" width="11.35" height="10.95" fill="none" stroke="#2e2e2e" stroke-width="1.25"/>
<rect x="927.62" y="910.02" width="11.35" height="10.95" fill="none" stroke="#2e2e2e" stroke-width="1.25"/>
<polygon points="674.4,1326.9 718.9,1349.9 718.9,1355.1 730.8,1361.4 730.8,1389.6 674.4,1358.2" fill="#d9d9d9" stroke="#555" stroke-width="0.8" stroke-linejoin="round" />
<polyline points="674.4,1358.2 730.8,1389.6 730.8,1357.5" fill="none" stroke="#111" stroke-width="1.6" stroke-linejoin="round" />
<polyline points="674.4,1326.9 718.9,1349.9" fill="none" stroke="#111" stroke-width="1.4" stroke-linejoin="round" />
<path d="M 677.9,1078.5 Q 673.5,1088 674.8,1097 Q 682,1125 684.3,1150 Q 685,1200 679,1240 Q 674,1290 675,1330 L 675.4,1364.5" fill="none" stroke="#111" stroke-width="1.0" stroke-linejoin="round" />
<polyline points="677,1084.5 741.8,1121.4" fill="none" stroke="#111" stroke-width="1.0" stroke-linejoin="round" />
<polyline points="675,1094.9 742.2,1132.3" fill="none" stroke="#111" stroke-width="1.7" stroke-linejoin="round" />
<path d="M 744.2,1116.2 Q 741,1119 741.8,1122.3 Q 743.5,1129 742.6,1136.7" fill="none" stroke="#111" stroke-width="0.9" stroke-linejoin="round" />
<polyline points="675,1097.7 720.5,1123.3 720.5,1347.8" fill="none" stroke="#111" stroke-width="1.7" stroke-linejoin="round" />
<polyline points="676.3,1103.8 716.4,1125.5" fill="none" stroke="#111" stroke-width="1.0" stroke-linejoin="round" />
<line x1="716.3" y1="1125.5" x2="716.3" y2="1347" stroke="#999" stroke-width="1.4"/>
<polyline points="718.9,1123.5 718.9,1347.8" fill="none" stroke="#111" stroke-width="0.8" stroke-linejoin="round" />
<path d="M 720.5,1169.3 L 879.9,1077.8 L 953,1120 Q 955,1122 953.5,1124.5 L 932,1136.5 Q 929.5,1138.2 932.5,1140 L 985.4,1169.7 Q 988,1170.5 990.5,1168.5 L 1014.6,1155.7 L 1058.5,1181.2 L 1059.6,1187.5" fill="none" stroke="#111" stroke-width="1.6" stroke-linejoin="round" />
<polyline points="720.5,1169.3 720.5,1176.6" fill="none" stroke="#111" stroke-width="1.6" stroke-linejoin="round" />
<polyline points="720.5,1169.3 900.4,1273.5 1058.5,1181.2" fill="none" stroke="#111" stroke-width="1.1" stroke-linejoin="round" />
<polyline points="720.5,1175 897.6,1275.2 900.7,1278.9 1059.6,1187.5" fill="none" stroke="#111" stroke-width="1.7" stroke-linejoin="round" />
<polyline points="900.4,1273.5 900.4,1278.5" fill="none" stroke="#111" stroke-width="0.8" stroke-linejoin="round" />
<polyline points="721.3,1180 894,1277.8" fill="none" stroke="#111" stroke-width="0.9" stroke-linejoin="round" />
<polyline points="720.5,1176.6 720.5,1355.1 807.1,1404.2" fill="none" stroke="#111" stroke-width="1.8" stroke-linejoin="round" />
<polyline points="807.1,1226 807.1,1404.2" fill="none" stroke="#111" stroke-width="1.8" stroke-linejoin="round" />
<polyline points="807.1,1404.2 894.9,1453.3" fill="none" stroke="#111" stroke-width="1.6" stroke-linejoin="round" />
<polyline points="893.4,1276.5 893.4,1452.5" fill="none" stroke="#111" stroke-width="0.9" stroke-linejoin="round" />
<polyline points="897.6,1275.2 897.6,1451.7" fill="none" stroke="#111" stroke-width="1.8" stroke-linejoin="round" />
<polyline points="901.2,1279 901.2,1450" fill="none" stroke="#111" stroke-width="0.9" stroke-linejoin="round" />
<polyline points="1059.6,1187.5 1059.4,1409.3 914.7,1492.2" fill="none" stroke="#111" stroke-width="1.6" stroke-linejoin="round" />
<polyline points="1059.4,1382.3 919.6,1462.3 919.6,1443 914.7,1445.5 897.4,1451.7" fill="none" stroke="#111" stroke-width="1.5" stroke-linejoin="round" />
<polyline points="914.7,1446 914.7,1492.2" fill="none" stroke="#111" stroke-width="1.2" stroke-linejoin="round" />
<polyline points="732.9,1362.4 732.9,1389.6 914.7,1492.2" fill="none" stroke="#111" stroke-width="1.6" stroke-linejoin="round" />
<polyline points="732.9,1362.4 807.1,1404.2" fill="none" stroke="#111" stroke-width="1.5" stroke-linejoin="round" />
<polyline points="894.9,1453.3 914.7,1465.2 919.6,1462.3" fill="none" stroke="#111" stroke-width="1.3" stroke-linejoin="round" />
<polygon points="755.8,1222.4 767.0999999999999,1216 802.5,1236 802.5,1241.7 790.4,1249.7 755.8,1229.6" fill="#fff" stroke="#111" stroke-width="1.2" stroke-linejoin="round" />
<polyline points="755.8,1223.2 790.4,1242.5 802.5,1236" fill="none" stroke="#111" stroke-width="1.0" stroke-linejoin="round" />
<polyline points="790.4,1242.5 790.4,1249.7" fill="none" stroke="#111" stroke-width="1.0" stroke-linejoin="round" />
<polygon points="801.8,1247.4 813.0999999999999,1241 848.5,1261 848.5,1266.7 836.4,1274.7 801.8,1254.6" fill="#fff" stroke="#111" stroke-width="1.2" stroke-linejoin="round" />
<polyline points="801.8,1248.2 836.4,1267.5 848.5,1261" fill="none" stroke="#111" stroke-width="1.0" stroke-linejoin="round" />
<polyline points="836.4,1267.5 836.4,1274.7" fill="none" stroke="#111" stroke-width="1.0" stroke-linejoin="round" />
<polygon points="1084.7,1168.7 1100.3,1160.7 1103.5,1162.4 1103.8,1390.9 1088.4,1399.6 1084.5,1396.7" fill="#fff" stroke="#111" stroke-width="1.6" stroke-linejoin="round" />
<polyline points="1084.7,1168.7 1088.6,1171 1103.5,1162.4" fill="none" stroke="#111" stroke-width="1.1" stroke-linejoin="round" />
<line x1="1088.7" y1="1171" x2="1088.5" y2="1399" stroke="#999" stroke-width="1.6"/>
<path d="M 1064.1,1293.6 L 1072.8,1278.5 L 1072.6,1284.8 L 1084.2,1279 L 1084.2,1285.8 L 1073,1291.6 L 1073.2,1298.6 Z" fill="#111" stroke="#111" stroke-width="0.8" stroke-linejoin="round"/>
<rect x="682.52" y="1068.62" width="11.35" height="11.35" fill="none" stroke="#2e2e2e" stroke-width="1.25"/>
<rect x="697.42" y="1068.62" width="11.35" height="11.35" fill="none" stroke="#2e2e2e" stroke-width="1.25"/>
<rect x="711.92" y="1068.62" width="11.35" height="11.35" fill="none" stroke="#2e2e2e" stroke-width="1.25"/>
<rect x="728.33" y="1068.62" width="11.35" height="11.35" fill="none" stroke="#2e2e2e" stroke-width="1.25"/>
<rect x="742.02" y="1068.62" width="11.35" height="11.35" fill="none" stroke="#2e2e2e" stroke-width="1.25"/>
<rect x="754.02" y="1068.62" width="11.35" height="11.35" fill="none" stroke="#2e2e2e" stroke-width="1.25"/>
<rect x="769.83" y="1068.62" width="11.35" height="11.35" fill="none" stroke="#2e2e2e" stroke-width="1.25"/>
<rect x="786.52" y="1068.62" width="11.35" height="11.35" fill="none" stroke="#2e2e2e" stroke-width="1.25"/>
<rect x="803.12" y="1068.62" width="11.35" height="11.35" fill="none" stroke="#2e2e2e" stroke-width="1.25"/>
<rect x="819.62" y="1068.62" width="11.35" height="11.35" fill="none" stroke="#2e2e2e" stroke-width="1.25"/>
<rect x="836.02" y="1068.62" width="11.35" height="11.35" fill="none" stroke="#2e2e2e" stroke-width="1.25"/>
<rect x="852.42" y="1068.62" width="11.35" height="11.35" fill="none" stroke="#2e2e2e" stroke-width="1.25"/>
<polyline points="730.1,1086.5 730.1,1092.2" fill="none" stroke="#111" stroke-width="1.1" stroke-linejoin="round" />
<polyline points="696.4,1107 696.4,1092.2 773.5,1092.2 773.5,1200" fill="none" stroke="#111" stroke-width="1.2" stroke-linejoin="round" />
<polygon points="693.8,1101.5 696.4,1109.8 699,1101.5 696.4,1104" fill="#111" stroke="#111" stroke-width="0.8" stroke-linejoin="round" />
<polygon points="770.9,1194.8 773.5,1203.1 776.1,1194.8 773.5,1197.3" fill="#111" stroke="#111" stroke-width="0.8" stroke-linejoin="round" />
<rect x="719.92" y="1442.83" width="11.35" height="10.95" fill="none" stroke="#2e2e2e" stroke-width="1.25"/>
<rect x="735.57" y="1442.83" width="11.35" height="10.95" fill="none" stroke="#2e2e2e" stroke-width="1.25"/>
<rect x="751.22" y="1442.83" width="11.35" height="10.95" fill="none" stroke="#2e2e2e" stroke-width="1.25"/>
<rect x="766.88" y="1442.83" width="11.35" height="10.95" fill="none" stroke="#2e2e2e" stroke-width="1.25"/>
<rect x="782.52" y="1442.83" width="11.35" height="10.95" fill="none" stroke="#2e2e2e" stroke-width="1.25"/>
<polyline points="702.6,1375 702.6,1449.1 714.1,1449.1" fill="none" stroke="#111" stroke-width="1.2" stroke-linejoin="round" />
<circle cx="702.6" cy="1375" r="2.5" fill="#111"/>
<rect x="1018.62" y="1463.92" width="11.25" height="10.75" fill="none" stroke="#2e2e2e" stroke-width="1.25"/>
<rect x="1034.22" y="1463.92" width="11.25" height="10.75" fill="none" stroke="#2e2e2e" stroke-width="1.25"/>
<rect x="1049.83" y="1463.92" width="11.25" height="10.75" fill="none" stroke="#2e2e2e" stroke-width="1.25"/>
<rect x="1065.42" y="1463.92" width="11.25" height="10.75" fill="none" stroke="#2e2e2e" stroke-width="1.25"/>
<polyline points="1095.1,1394.8 1095.1,1469.1 1081.6,1469.1" fill="none" stroke="#111" stroke-width="1.2" stroke-linejoin="round" />
<circle cx="1095.1" cy="1394.8" r="2.5" fill="#111"/>
</svg></body></html>
